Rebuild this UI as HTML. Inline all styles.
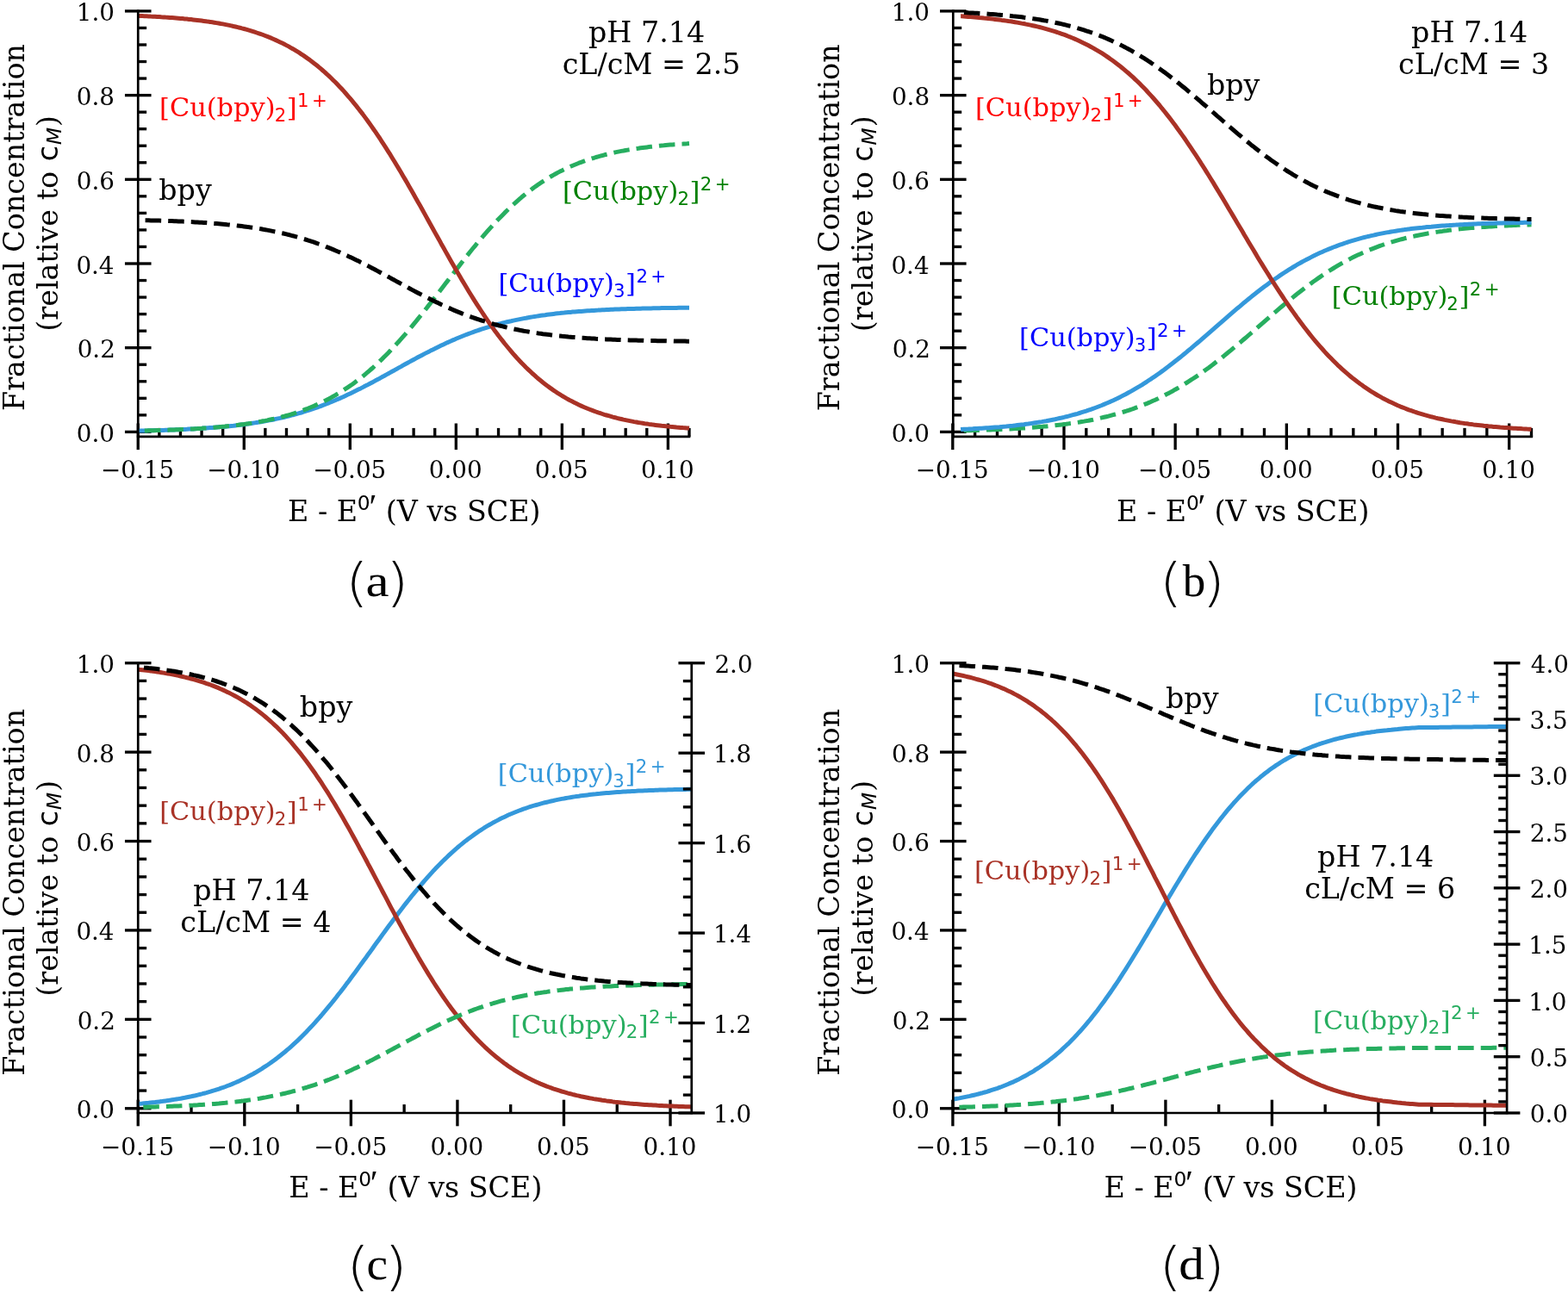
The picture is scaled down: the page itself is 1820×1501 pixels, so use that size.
<!DOCTYPE html>
<html><head><meta charset="utf-8"><title>Fractional Concentration</title>
<style>
html,body{margin:0;padding:0;background:#fff;}
body{width:1820px;height:1501px;overflow:hidden;}
svg{display:block;}
text{font-family:"DejaVu Serif", "Liberation Serif", serif;}
.sa{font-family:"DejaVu Sans", "Liberation Sans", sans-serif;}
.si{font-family:"DejaVu Sans", "Liberation Sans", sans-serif;font-style:italic;}
.cap{font-family:"Liberation Serif", "DejaVu Serif", serif;}
.xl{font-family:"DejaVu Sans", "Liberation Sans", sans-serif;font-weight:200;}
</style></head>
<body>
<svg width="1820" height="1501" viewBox="0 0 1820 1501">
<rect width="1820" height="1501" fill="#fff"/>
<g>
<line x1="144.95" y1="501.40" x2="175.55" y2="501.40" stroke="#000" stroke-width="3.33"/>
<text x="132.99" y="512.90" font-size="27.78" text-anchor="end">0.0</text>
<line x1="160.25" y1="481.86" x2="170.15" y2="481.86" stroke="#000" stroke-width="3.33"/>
<line x1="160.25" y1="462.32" x2="170.15" y2="462.32" stroke="#000" stroke-width="3.33"/>
<line x1="160.25" y1="442.78" x2="170.15" y2="442.78" stroke="#000" stroke-width="3.33"/>
<line x1="160.25" y1="423.24" x2="170.15" y2="423.24" stroke="#000" stroke-width="3.33"/>
<line x1="144.95" y1="403.70" x2="175.55" y2="403.70" stroke="#000" stroke-width="3.33"/>
<text x="133.88" y="415.20" font-size="27.78" text-anchor="end">0.2</text>
<line x1="160.25" y1="384.16" x2="170.15" y2="384.16" stroke="#000" stroke-width="3.33"/>
<line x1="160.25" y1="364.62" x2="170.15" y2="364.62" stroke="#000" stroke-width="3.33"/>
<line x1="160.25" y1="345.08" x2="170.15" y2="345.08" stroke="#000" stroke-width="3.33"/>
<line x1="160.25" y1="325.54" x2="170.15" y2="325.54" stroke="#000" stroke-width="3.33"/>
<line x1="144.95" y1="306.00" x2="175.55" y2="306.00" stroke="#000" stroke-width="3.33"/>
<text x="132.55" y="317.50" font-size="27.78" text-anchor="end">0.4</text>
<line x1="160.25" y1="286.46" x2="170.15" y2="286.46" stroke="#000" stroke-width="3.33"/>
<line x1="160.25" y1="266.92" x2="170.15" y2="266.92" stroke="#000" stroke-width="3.33"/>
<line x1="160.25" y1="247.38" x2="170.15" y2="247.38" stroke="#000" stroke-width="3.33"/>
<line x1="160.25" y1="227.84" x2="170.15" y2="227.84" stroke="#000" stroke-width="3.33"/>
<line x1="144.95" y1="208.30" x2="175.55" y2="208.30" stroke="#000" stroke-width="3.33"/>
<text x="132.90" y="219.80" font-size="27.78" text-anchor="end">0.6</text>
<line x1="160.25" y1="188.76" x2="170.15" y2="188.76" stroke="#000" stroke-width="3.33"/>
<line x1="160.25" y1="169.22" x2="170.15" y2="169.22" stroke="#000" stroke-width="3.33"/>
<line x1="160.25" y1="149.68" x2="170.15" y2="149.68" stroke="#000" stroke-width="3.33"/>
<line x1="160.25" y1="130.14" x2="170.15" y2="130.14" stroke="#000" stroke-width="3.33"/>
<line x1="144.95" y1="110.60" x2="175.55" y2="110.60" stroke="#000" stroke-width="3.33"/>
<text x="133.02" y="122.10" font-size="27.78" text-anchor="end">0.8</text>
<line x1="160.25" y1="91.06" x2="170.15" y2="91.06" stroke="#000" stroke-width="3.33"/>
<line x1="160.25" y1="71.52" x2="170.15" y2="71.52" stroke="#000" stroke-width="3.33"/>
<line x1="160.25" y1="51.98" x2="170.15" y2="51.98" stroke="#000" stroke-width="3.33"/>
<line x1="160.25" y1="32.44" x2="170.15" y2="32.44" stroke="#000" stroke-width="3.33"/>
<line x1="144.95" y1="12.90" x2="175.55" y2="12.90" stroke="#000" stroke-width="3.33"/>
<text x="132.99" y="24.40" font-size="27.78" text-anchor="end">1.0</text>
<line x1="160.25" y1="491.50" x2="160.25" y2="522.10" stroke="#000" stroke-width="3.33"/>
<text x="159.65" y="555.40" font-size="27.78" text-anchor="middle">−0.15</text>
<line x1="184.86" y1="496.90" x2="184.86" y2="506.80" stroke="#000" stroke-width="3.33"/>
<line x1="209.46" y1="496.90" x2="209.46" y2="506.80" stroke="#000" stroke-width="3.33"/>
<line x1="234.07" y1="496.90" x2="234.07" y2="506.80" stroke="#000" stroke-width="3.33"/>
<line x1="258.67" y1="496.90" x2="258.67" y2="506.80" stroke="#000" stroke-width="3.33"/>
<line x1="283.28" y1="491.50" x2="283.28" y2="522.10" stroke="#000" stroke-width="3.33"/>
<text x="282.68" y="555.40" font-size="27.78" text-anchor="middle">−0.10</text>
<line x1="307.88" y1="496.90" x2="307.88" y2="506.80" stroke="#000" stroke-width="3.33"/>
<line x1="332.49" y1="496.90" x2="332.49" y2="506.80" stroke="#000" stroke-width="3.33"/>
<line x1="357.10" y1="496.90" x2="357.10" y2="506.80" stroke="#000" stroke-width="3.33"/>
<line x1="381.70" y1="496.90" x2="381.70" y2="506.80" stroke="#000" stroke-width="3.33"/>
<line x1="406.31" y1="491.50" x2="406.31" y2="522.10" stroke="#000" stroke-width="3.33"/>
<text x="405.71" y="555.40" font-size="27.78" text-anchor="middle">−0.05</text>
<line x1="430.91" y1="496.90" x2="430.91" y2="506.80" stroke="#000" stroke-width="3.33"/>
<line x1="455.52" y1="496.90" x2="455.52" y2="506.80" stroke="#000" stroke-width="3.33"/>
<line x1="480.12" y1="496.90" x2="480.12" y2="506.80" stroke="#000" stroke-width="3.33"/>
<line x1="504.73" y1="496.90" x2="504.73" y2="506.80" stroke="#000" stroke-width="3.33"/>
<line x1="529.34" y1="491.50" x2="529.34" y2="522.10" stroke="#000" stroke-width="3.33"/>
<text x="528.74" y="555.40" font-size="27.78" text-anchor="middle">0.00</text>
<line x1="553.94" y1="496.90" x2="553.94" y2="506.80" stroke="#000" stroke-width="3.33"/>
<line x1="578.55" y1="496.90" x2="578.55" y2="506.80" stroke="#000" stroke-width="3.33"/>
<line x1="603.15" y1="496.90" x2="603.15" y2="506.80" stroke="#000" stroke-width="3.33"/>
<line x1="627.76" y1="496.90" x2="627.76" y2="506.80" stroke="#000" stroke-width="3.33"/>
<line x1="652.37" y1="491.50" x2="652.37" y2="522.10" stroke="#000" stroke-width="3.33"/>
<text x="651.77" y="555.40" font-size="27.78" text-anchor="middle">0.05</text>
<line x1="676.97" y1="496.90" x2="676.97" y2="506.80" stroke="#000" stroke-width="3.33"/>
<line x1="701.58" y1="496.90" x2="701.58" y2="506.80" stroke="#000" stroke-width="3.33"/>
<line x1="726.18" y1="496.90" x2="726.18" y2="506.80" stroke="#000" stroke-width="3.33"/>
<line x1="750.79" y1="496.90" x2="750.79" y2="506.80" stroke="#000" stroke-width="3.33"/>
<line x1="775.39" y1="491.50" x2="775.39" y2="522.10" stroke="#000" stroke-width="3.33"/>
<text x="774.79" y="555.40" font-size="27.78" text-anchor="middle">0.10</text>
<line x1="800.00" y1="496.90" x2="800.00" y2="506.80" stroke="#000" stroke-width="3.33"/>
<polyline points="160.2,500.1 162.7,500.1 165.2,500.0 167.6,500.0 170.1,499.9 172.6,499.8 175.0,499.8 177.5,499.7 179.9,499.6 182.4,499.6 184.9,499.5 187.3,499.4 189.8,499.4 192.2,499.3 194.7,499.2 197.2,499.1 199.6,499.0 202.1,498.9 204.5,498.8 207.0,498.7 209.5,498.6 211.9,498.5 214.4,498.4 216.8,498.3 219.3,498.1 221.8,498.0 224.2,497.9 226.7,497.7 229.1,497.6 231.6,497.4 234.1,497.3 236.5,497.1 239.0,497.0 241.4,496.8 243.9,496.6 246.4,496.4 248.8,496.2 251.3,496.0 253.8,495.8 256.2,495.6 258.7,495.4 261.1,495.2 263.6,494.9 266.1,494.7 268.5,494.4 271.0,494.2 273.4,493.9 275.9,493.6 278.4,493.3 280.8,493.0 283.3,492.7 285.7,492.4 288.2,492.0 290.7,491.7 293.1,491.3 295.6,490.9 298.0,490.5 300.5,490.1 303.0,489.7 305.4,489.3 307.9,488.9 310.3,488.4 312.8,487.9 315.3,487.5 317.7,487.0 320.2,486.4 322.6,485.9 325.1,485.4 327.6,484.8 330.0,484.2 332.5,483.6 335.0,483.0 337.4,482.4 339.9,481.7 342.3,481.1 344.8,480.4 347.3,479.7 349.7,479.0 352.2,478.2 354.6,477.4 357.1,476.7 359.6,475.9 362.0,475.0 364.5,474.2 366.9,473.3 369.4,472.5 371.9,471.6 374.3,470.6 376.8,469.7 379.2,468.7 381.7,467.8 384.2,466.8 386.6,465.7 389.1,464.7 391.5,463.6 394.0,462.6 396.5,461.5 398.9,460.4 401.4,459.2 403.8,458.1 406.3,456.9 408.8,455.7 411.2,454.5 413.7,453.3 416.1,452.1 418.6,450.9 421.1,449.6 423.5,448.3 426.0,447.1 428.5,445.8 430.9,444.5 433.4,443.2 435.8,441.8 438.3,440.5 440.8,439.2 443.2,437.8 445.7,436.5 448.1,435.1 450.6,433.8 453.1,432.4 455.5,431.0 458.0,429.7 460.4,428.3 462.9,426.9 465.4,425.6 467.8,424.2 470.3,422.8 472.7,421.5 475.2,420.1 477.7,418.8 480.1,417.5 482.6,416.1 485.0,414.8 487.5,413.5 490.0,412.2 492.4,410.9 494.9,409.6 497.3,408.4 499.8,407.1 502.3,405.9 504.7,404.7 507.2,403.5 509.7,402.3 512.1,401.1 514.6,399.9 517.0,398.8 519.5,397.6 522.0,396.5 524.4,395.4 526.9,394.4 529.3,393.3 531.8,392.3 534.3,391.3 536.7,390.3 539.2,389.3 541.6,388.3 544.1,387.4 546.6,386.5 549.0,385.6 551.5,384.7 553.9,383.8 556.4,383.0 558.9,382.2 561.3,381.4 563.8,380.6 566.2,379.8 568.7,379.1 571.2,378.4 573.6,377.7 576.1,377.0 578.5,376.3 581.0,375.7 583.5,375.0 585.9,374.4 588.4,373.8 590.9,373.2 593.3,372.7 595.8,372.1 598.2,371.6 600.7,371.1 603.2,370.6 605.6,370.1 608.1,369.6 610.5,369.2 613.0,368.7 615.5,368.3 617.9,367.9 620.4,367.5 622.8,367.1 625.3,366.7 627.8,366.3 630.2,366.0 632.7,365.7 635.1,365.3 637.6,365.0 640.1,364.7 642.5,364.4 645.0,364.1 647.4,363.8 649.9,363.6 652.4,363.3 654.8,363.1 657.3,362.8 659.7,362.6 662.2,362.4 664.7,362.1 667.1,361.9 669.6,361.7 672.0,361.5 674.5,361.4 677.0,361.2 679.4,361.0 681.9,360.8 684.4,360.7 686.8,360.5 689.3,360.4 691.7,360.2 694.2,360.1 696.7,359.9 699.1,359.8 701.6,359.7 704.0,359.6 706.5,359.5 709.0,359.3 711.4,359.2 713.9,359.1 716.3,359.0 718.8,358.9 721.3,358.8 723.7,358.8 726.2,358.7 728.6,358.6 731.1,358.5 733.6,358.4 736.0,358.4 738.5,358.3 740.9,358.2 743.4,358.2 745.9,358.1 748.3,358.0 750.8,358.0 753.2,357.9 755.7,357.9 758.2,357.8 760.6,357.8 763.1,357.7 765.6,357.7 768.0,357.6 770.5,357.6 772.9,357.5 775.4,357.5 777.9,357.5 780.3,357.4 782.8,357.4 785.2,357.4 787.7,357.3 790.2,357.3 792.6,357.3 795.1,357.2 797.5,357.2 800.0,357.2" fill="none" stroke="#3498db" stroke-width="5.0" stroke-linejoin="round"/>
<polyline points="167.8,500.0 170.1,499.9 172.6,499.8 175.0,499.8 177.5,499.7 179.9,499.7 182.4,499.6 184.9,499.5 187.3,499.4 189.8,499.4 192.2,499.3 194.7,499.2 197.2,499.1 199.6,499.0 202.1,498.9 204.5,498.8 207.0,498.7 209.5,498.6 211.9,498.5 214.4,498.4 216.8,498.3 219.3,498.1 221.8,498.0 224.2,497.9 226.7,497.7 229.1,497.6 231.6,497.4 234.1,497.3 236.5,497.1 239.0,496.9 241.4,496.8 243.9,496.6 246.4,496.4 248.8,496.2 251.3,496.0 253.8,495.8 256.2,495.5 258.7,495.3 261.1,495.1 263.6,494.8 266.1,494.6 268.5,494.3 271.0,494.0 273.4,493.7 275.9,493.4 278.4,493.1 280.8,492.8 283.3,492.5 285.7,492.1 288.2,491.8 290.7,491.4 293.1,491.0 295.6,490.6 298.0,490.2 300.5,489.7 303.0,489.3 305.4,488.8 307.9,488.4 310.3,487.9 312.8,487.3 315.3,486.8 317.7,486.3 320.2,485.7 322.6,485.1 325.1,484.5 327.6,483.8 330.0,483.2 332.5,482.5 335.0,481.8 337.4,481.1 339.9,480.3 342.3,479.5 344.8,478.7 347.3,477.9 349.7,477.0 352.2,476.1 354.6,475.2 357.1,474.3 359.6,473.3 362.0,472.3 364.5,471.2 366.9,470.1 369.4,469.0 371.9,467.9 374.3,466.7 376.8,465.5 379.2,464.3 381.7,463.0 384.2,461.6 386.6,460.3 389.1,458.9 391.5,457.4 394.0,455.9 396.5,454.4 398.9,452.8 401.4,451.2 403.8,449.6 406.3,447.9 408.8,446.2 411.2,444.4 413.7,442.5 416.1,440.7 418.6,438.7 421.1,436.8 423.5,434.8 426.0,432.7 428.5,430.6 430.9,428.5 433.4,426.3 435.8,424.0 438.3,421.8 440.8,419.4 443.2,417.1 445.7,414.6 448.1,412.2 450.6,409.7 453.1,407.1 455.5,404.5 458.0,401.9 460.4,399.2 462.9,396.5 465.4,393.7 467.8,390.9 470.3,388.1 472.7,385.2 475.2,382.3 477.7,379.4 480.1,376.4 482.6,373.4 485.0,370.4 487.5,367.3 490.0,364.3 492.4,361.2 494.9,358.0 497.3,354.9 499.8,351.7 502.3,348.6 504.7,345.4 507.2,342.2 509.7,339.0 512.1,335.8 514.6,332.5 517.0,329.3 519.5,326.1 522.0,322.9 524.4,319.7 526.9,316.5 529.3,313.3 531.8,310.1 534.3,306.9 536.7,303.8 539.2,300.6 541.6,297.5 544.1,294.4 546.6,291.3 549.0,288.3 551.5,285.3 553.9,282.3 556.4,279.3 558.9,276.4 561.3,273.5 563.8,270.7 566.2,267.9 568.7,265.1 571.2,262.4 573.6,259.7 576.1,257.0 578.5,254.4 581.0,251.9 583.5,249.4 585.9,246.9 588.4,244.5 590.9,242.1 593.3,239.8 595.8,237.5 598.2,235.3 600.7,233.1 603.2,230.9 605.6,228.8 608.1,226.8 610.5,224.8 613.0,222.9 615.5,221.0 617.9,219.1 620.4,217.3 622.8,215.6 625.3,213.8 627.8,212.2 630.2,210.6 632.7,209.0 635.1,207.5 637.6,206.0 640.1,204.5 642.5,203.1 645.0,201.7 647.4,200.4 649.9,199.1 652.4,197.9 654.8,196.7 657.3,195.5 659.7,194.4 662.2,193.3 664.7,192.2 667.1,191.2 669.6,190.2 672.0,189.2 674.5,188.3 677.0,187.4 679.4,186.5 681.9,185.6 684.4,184.8 686.8,184.0 689.3,183.3 691.7,182.5 694.2,181.8 696.7,181.1 699.1,180.5 701.6,179.8 704.0,179.2 706.5,178.6 709.0,178.0 711.4,177.5 713.9,176.9 716.3,176.4 718.8,175.9 721.3,175.4 723.7,175.0 726.2,174.5 728.6,174.1 731.1,173.7 733.6,173.3 736.0,172.9 738.5,172.5 740.9,172.2 743.4,171.8 745.9,171.5 748.3,171.2 750.8,170.9 753.2,170.6 755.7,170.3 758.2,170.0 760.6,169.7 763.1,169.5 765.6,169.2 768.0,169.0 770.5,168.8 772.9,168.5 775.4,168.3 777.9,168.1 780.3,167.9 782.8,167.7 785.2,167.6 787.7,167.4 790.2,167.2 792.6,167.1 795.1,166.9 797.5,166.8 800.0,166.6" fill="none" stroke="#27ae60" stroke-width="5.0" stroke-linejoin="round" stroke-dasharray="18.55 8.05"/>
<polyline points="160.2,18.4 162.7,18.5 165.2,18.6 167.6,18.7 170.1,18.8 172.6,18.9 175.0,19.1 177.5,19.2 179.9,19.3 182.4,19.5 184.9,19.6 187.3,19.8 189.8,19.9 192.2,20.1 194.7,20.2 197.2,20.4 199.6,20.6 202.1,20.8 204.5,21.0 207.0,21.2 209.5,21.4 211.9,21.6 214.4,21.9 216.8,22.1 219.3,22.4 221.8,22.6 224.2,22.9 226.7,23.2 229.1,23.5 231.6,23.8 234.1,24.1 236.5,24.4 239.0,24.7 241.4,25.1 243.9,25.4 246.4,25.8 248.8,26.2 251.3,26.6 253.8,27.0 256.2,27.5 258.7,27.9 261.1,28.4 263.6,28.9 266.1,29.4 268.5,29.9 271.0,30.5 273.4,31.0 275.9,31.6 278.4,32.2 280.8,32.9 283.3,33.5 285.7,34.2 288.2,34.9 290.7,35.6 293.1,36.4 295.6,37.2 298.0,38.0 300.5,38.8 303.0,39.7 305.4,40.5 307.9,41.5 310.3,42.4 312.8,43.4 315.3,44.4 317.7,45.5 320.2,46.6 322.6,47.7 325.1,48.9 327.6,50.1 330.0,51.3 332.5,52.6 335.0,53.9 337.4,55.3 339.9,56.7 342.3,58.2 344.8,59.7 347.3,61.2 349.7,62.8 352.2,64.4 354.6,66.1 357.1,67.9 359.6,69.6 362.0,71.5 364.5,73.4 366.9,75.3 369.4,77.3 371.9,79.4 374.3,81.5 376.8,83.6 379.2,85.9 381.7,88.1 384.2,90.5 386.6,92.9 389.1,95.3 391.5,97.8 394.0,100.4 396.5,103.0 398.9,105.7 401.4,108.5 403.8,111.3 406.3,114.1 408.8,117.1 411.2,120.1 413.7,123.1 416.1,126.2 418.6,129.4 421.1,132.6 423.5,135.9 426.0,139.3 428.5,142.7 430.9,146.1 433.4,149.7 435.8,153.2 438.3,156.9 440.8,160.5 443.2,164.3 445.7,168.1 448.1,171.9 450.6,175.8 453.1,179.7 455.5,183.7 458.0,187.7 460.4,191.8 462.9,195.9 465.4,200.0 467.8,204.2 470.3,208.4 472.7,212.6 475.2,216.9 477.7,221.2 480.1,225.5 482.6,229.9 485.0,234.3 487.5,238.6 490.0,243.0 492.4,247.4 494.9,251.9 497.3,256.3 499.8,260.7 502.3,265.2 504.7,269.6 507.2,274.0 509.7,278.4 512.1,282.9 514.6,287.3 517.0,291.6 519.5,296.0 522.0,300.4 524.4,304.7 526.9,309.0 529.3,313.3 531.8,317.5 534.3,321.7 536.7,325.9 539.2,330.0 541.6,334.1 544.1,338.2 546.6,342.2 549.0,346.1 551.5,350.1 553.9,353.9 556.4,357.7 558.9,361.5 561.3,365.2 563.8,368.9 566.2,372.4 568.7,376.0 571.2,379.5 573.6,382.9 576.1,386.2 578.5,389.5 581.0,392.7 583.5,395.9 585.9,399.0 588.4,402.0 590.9,405.0 593.3,407.9 595.8,410.8 598.2,413.5 600.7,416.3 603.2,418.9 605.6,421.5 608.1,424.0 610.5,426.5 613.0,428.9 615.5,431.2 617.9,433.5 620.4,435.7 622.8,437.9 625.3,440.0 627.8,442.0 630.2,444.0 632.7,445.9 635.1,447.8 637.6,449.6 640.1,451.4 642.5,453.1 645.0,454.8 647.4,456.4 649.9,457.9 652.4,459.5 654.8,460.9 657.3,462.4 659.7,463.7 662.2,465.1 664.7,466.3 667.1,467.6 669.6,468.8 672.0,470.0 674.5,471.1 677.0,472.2 679.4,473.2 681.9,474.3 684.4,475.3 686.8,476.2 689.3,477.1 691.7,478.0 694.2,478.9 696.7,479.7 699.1,480.5 701.6,481.3 704.0,482.0 706.5,482.7 709.0,483.4 711.4,484.1 713.9,484.7 716.3,485.4 718.8,486.0 721.3,486.5 723.7,487.1 726.2,487.6 728.6,488.1 731.1,488.6 733.6,489.1 736.0,489.6 738.5,490.0 740.9,490.5 743.4,490.9 745.9,491.3 748.3,491.7 750.8,492.0 753.2,492.4 755.7,492.7 758.2,493.1 760.6,493.4 763.1,493.7 765.6,494.0 768.0,494.3 770.5,494.5 772.9,494.8 775.4,495.0 777.9,495.3 780.3,495.5 782.8,495.7 785.2,496.0 787.7,496.2 790.2,496.4 792.6,496.6 795.1,496.7 797.5,496.9 800.0,497.1" fill="none" stroke="#a93226" stroke-width="5.0" stroke-linejoin="round"/>
<polyline points="168.6,255.7 170.1,255.7 172.6,255.8 175.0,255.9 177.5,255.9 179.9,256.0 182.4,256.1 184.9,256.1 187.3,256.2 189.8,256.3 192.2,256.4 194.7,256.4 197.2,256.5 199.6,256.6 202.1,256.7 204.5,256.8 207.0,256.9 209.5,257.0 211.9,257.1 214.4,257.2 216.8,257.4 219.3,257.5 221.8,257.6 224.2,257.7 226.7,257.9 229.1,258.0 231.6,258.2 234.1,258.3 236.5,258.5 239.0,258.6 241.4,258.8 243.9,259.0 246.4,259.2 248.8,259.4 251.3,259.6 253.8,259.8 256.2,260.0 258.7,260.2 261.1,260.4 263.6,260.7 266.1,260.9 268.5,261.2 271.0,261.4 273.4,261.7 275.9,262.0 278.4,262.3 280.8,262.6 283.3,262.9 285.7,263.2 288.2,263.6 290.7,263.9 293.1,264.3 295.6,264.6 298.0,265.0 300.5,265.4 303.0,265.8 305.4,266.3 307.9,266.7 310.3,267.1 312.8,267.6 315.3,268.1 317.7,268.6 320.2,269.1 322.6,269.6 325.1,270.2 327.6,270.7 330.0,271.3 332.5,271.9 335.0,272.5 337.4,273.1 339.9,273.8 342.3,274.4 344.8,275.1 347.3,275.8 349.7,276.5 352.2,277.3 354.6,278.0 357.1,278.8 359.6,279.6 362.0,280.4 364.5,281.2 366.9,282.1 369.4,283.0 371.9,283.9 374.3,284.8 376.8,285.7 379.2,286.7 381.7,287.6 384.2,288.6 386.6,289.6 389.1,290.7 391.5,291.7 394.0,292.8 396.5,293.9 398.9,295.0 401.4,296.1 403.8,297.2 406.3,298.4 408.8,299.5 411.2,300.7 413.7,301.9 416.1,303.1 418.6,304.4 421.1,305.6 423.5,306.9 426.0,308.1 428.5,309.4 430.9,310.7 433.4,312.0 435.8,313.3 438.3,314.6 440.8,316.0 443.2,317.3 445.7,318.6 448.1,320.0 450.6,321.3 453.1,322.6 455.5,324.0 458.0,325.3 460.4,326.7 462.9,328.0 465.4,329.4 467.8,330.7 470.3,332.1 472.7,333.4 475.2,334.7 477.7,336.1 480.1,337.4 482.6,338.7 485.0,340.0 487.5,341.3 490.0,342.5 492.4,343.8 494.9,345.1 497.3,346.3 499.8,347.5 502.3,348.8 504.7,350.0 507.2,351.1 509.7,352.3 512.1,353.5 514.6,354.6 517.0,355.7 519.5,356.8 522.0,357.9 524.4,359.0 526.9,360.1 529.3,361.1 531.8,362.1 534.3,363.1 536.7,364.1 539.2,365.0 541.6,366.0 544.1,366.9 546.6,367.8 549.0,368.7 551.5,369.5 553.9,370.3 556.4,371.2 558.9,372.0 561.3,372.7 563.8,373.5 566.2,374.3 568.7,375.0 571.2,375.7 573.6,376.4 576.1,377.0 578.5,377.7 581.0,378.3 583.5,378.9 585.9,379.5 588.4,380.1 590.9,380.7 593.3,381.2 595.8,381.8 598.2,382.3 600.7,382.8 603.2,383.3 605.6,383.7 608.1,384.2 610.5,384.6 613.0,385.0 615.5,385.5 617.9,385.9 620.4,386.3 622.8,386.6 625.3,387.0 627.8,387.3 630.2,387.7 632.7,388.0 635.1,388.3 637.6,388.6 640.1,388.9 642.5,389.2 645.0,389.5 647.4,389.8 649.9,390.0 652.4,390.3 654.8,390.5 657.3,390.7 659.7,391.0 662.2,391.2 664.7,391.4 667.1,391.6 669.6,391.8 672.0,392.0 674.5,392.2 677.0,392.3 679.4,392.5 681.9,392.7 684.4,392.8 686.8,393.0 689.3,393.1 691.7,393.3 694.2,393.4 696.7,393.5 699.1,393.6 701.6,393.8 704.0,393.9 706.5,394.0 709.0,394.1 711.4,394.2 713.9,394.3 716.3,394.4 718.8,394.5 721.3,394.6 723.7,394.7 726.2,394.7 728.6,394.8 731.1,394.9 733.6,395.0 736.0,395.0 738.5,395.1 740.9,395.2 743.4,395.2 745.9,395.3 748.3,395.4 750.8,395.4 753.2,395.5 755.7,395.5 758.2,395.6 760.6,395.6 763.1,395.7 765.6,395.7 768.0,395.8 770.5,395.8 772.9,395.8 775.4,395.9 777.9,395.9 780.3,395.9 782.8,396.0 785.2,396.0 787.7,396.0 790.2,396.1 792.6,396.1 795.1,396.1 797.5,396.2 800.0,396.2" fill="none" stroke="#000" stroke-width="5.0" stroke-linejoin="round" stroke-dasharray="18.55 8.05"/>
<line x1="160.25" y1="11.23" x2="160.25" y2="508.15" stroke="#000" stroke-width="2.7"/>
<line x1="158.90" y1="506.80" x2="801.35" y2="506.80" stroke="#000" stroke-width="2.7"/>
<text font-size="33.33"><tspan x="333.96" y="604.50">E - E</tspan><tspan class="sa" font-size="23.33" x="414.86" y="591.50">0</tspan><tspan class="cap" font-size="41.00" x="428.38" y="600.90">′</tspan><tspan x="437.18" y="604.50"> (V vs SCE)</tspan></text>
<g transform="translate(28.40,476.96) rotate(-90)">
<text x="0.00" y="0.00" font-size="33.33">Fractional Concentration</text>
</g>
<g transform="translate(67.00,384.74) rotate(-90)">
<text font-size="33.33"><tspan x="0" y="0">(relative to </tspan><tspan class="sa" x="197.50" y="0">c</tspan><tspan class="si" font-size="23.33" x="216.71" y="4.4">M</tspan><tspan x="237.77" y="0">)</tspan></text>
</g>
<text font-size="30.40" fill="#ff0000"><tspan x="185.09" y="134.80">[Cu(bpy)</tspan><tspan class="sa" font-size="21.28" x="318.65" y="140.60">2</tspan><tspan x="332.69" y="134.80">]</tspan><tspan class="sa" font-size="21.28" x="345.07" y="123.60">1</tspan><tspan class="sa" font-size="21.28" x="361.95" y="123.60">+</tspan></text>
<text x="184.24" y="232.40" font-size="33.33">bpy</text>
<text font-size="30.40" fill="#008000"><tspan x="652.89" y="232.40">[Cu(bpy)</tspan><tspan class="sa" font-size="21.28" x="786.45" y="238.20">2</tspan><tspan x="800.49" y="232.40">]</tspan><tspan class="sa" font-size="21.28" x="812.87" y="221.20">2</tspan><tspan class="sa" font-size="21.28" x="829.75" y="221.20">+</tspan></text>
<text font-size="30.40" fill="#0000ff"><tspan x="578.49" y="338.80">[Cu(bpy)</tspan><tspan class="sa" font-size="21.28" x="712.05" y="344.60">3</tspan><tspan x="726.09" y="338.80">]</tspan><tspan class="sa" font-size="21.28" x="738.47" y="327.60">2</tspan><tspan class="sa" font-size="21.28" x="755.35" y="327.60">+</tspan></text>
<text x="682.95" y="48.90" font-size="33.33">pH 7.14</text>
<text x="652.63" y="86.00" font-size="33.33">cL/cM = 2.5</text>
<text class="cap" font-size="53.0"><tspan class="xl" x="400.84" y="697.10" font-size="60.1" textLength="26.96" lengthAdjust="spacingAndGlyphs">(</tspan><tspan x="424.52" y="691.60" textLength="27.05" lengthAdjust="spacingAndGlyphs">a</tspan><tspan class="xl" x="447.86" y="697.10" font-size="60.1" textLength="26.96" lengthAdjust="spacingAndGlyphs">)</tspan></text>
</g>
<g>
<line x1="1091.00" y1="501.40" x2="1121.60" y2="501.40" stroke="#000" stroke-width="3.33"/>
<text x="1079.04" y="512.90" font-size="27.78" text-anchor="end">0.0</text>
<line x1="1106.30" y1="481.86" x2="1116.20" y2="481.86" stroke="#000" stroke-width="3.33"/>
<line x1="1106.30" y1="462.32" x2="1116.20" y2="462.32" stroke="#000" stroke-width="3.33"/>
<line x1="1106.30" y1="442.78" x2="1116.20" y2="442.78" stroke="#000" stroke-width="3.33"/>
<line x1="1106.30" y1="423.24" x2="1116.20" y2="423.24" stroke="#000" stroke-width="3.33"/>
<line x1="1091.00" y1="403.70" x2="1121.60" y2="403.70" stroke="#000" stroke-width="3.33"/>
<text x="1079.93" y="415.20" font-size="27.78" text-anchor="end">0.2</text>
<line x1="1106.30" y1="384.16" x2="1116.20" y2="384.16" stroke="#000" stroke-width="3.33"/>
<line x1="1106.30" y1="364.62" x2="1116.20" y2="364.62" stroke="#000" stroke-width="3.33"/>
<line x1="1106.30" y1="345.08" x2="1116.20" y2="345.08" stroke="#000" stroke-width="3.33"/>
<line x1="1106.30" y1="325.54" x2="1116.20" y2="325.54" stroke="#000" stroke-width="3.33"/>
<line x1="1091.00" y1="306.00" x2="1121.60" y2="306.00" stroke="#000" stroke-width="3.33"/>
<text x="1078.60" y="317.50" font-size="27.78" text-anchor="end">0.4</text>
<line x1="1106.30" y1="286.46" x2="1116.20" y2="286.46" stroke="#000" stroke-width="3.33"/>
<line x1="1106.30" y1="266.92" x2="1116.20" y2="266.92" stroke="#000" stroke-width="3.33"/>
<line x1="1106.30" y1="247.38" x2="1116.20" y2="247.38" stroke="#000" stroke-width="3.33"/>
<line x1="1106.30" y1="227.84" x2="1116.20" y2="227.84" stroke="#000" stroke-width="3.33"/>
<line x1="1091.00" y1="208.30" x2="1121.60" y2="208.30" stroke="#000" stroke-width="3.33"/>
<text x="1078.95" y="219.80" font-size="27.78" text-anchor="end">0.6</text>
<line x1="1106.30" y1="188.76" x2="1116.20" y2="188.76" stroke="#000" stroke-width="3.33"/>
<line x1="1106.30" y1="169.22" x2="1116.20" y2="169.22" stroke="#000" stroke-width="3.33"/>
<line x1="1106.30" y1="149.68" x2="1116.20" y2="149.68" stroke="#000" stroke-width="3.33"/>
<line x1="1106.30" y1="130.14" x2="1116.20" y2="130.14" stroke="#000" stroke-width="3.33"/>
<line x1="1091.00" y1="110.60" x2="1121.60" y2="110.60" stroke="#000" stroke-width="3.33"/>
<text x="1079.07" y="122.10" font-size="27.78" text-anchor="end">0.8</text>
<line x1="1106.30" y1="91.06" x2="1116.20" y2="91.06" stroke="#000" stroke-width="3.33"/>
<line x1="1106.30" y1="71.52" x2="1116.20" y2="71.52" stroke="#000" stroke-width="3.33"/>
<line x1="1106.30" y1="51.98" x2="1116.20" y2="51.98" stroke="#000" stroke-width="3.33"/>
<line x1="1106.30" y1="32.44" x2="1116.20" y2="32.44" stroke="#000" stroke-width="3.33"/>
<line x1="1091.00" y1="12.90" x2="1121.60" y2="12.90" stroke="#000" stroke-width="3.33"/>
<text x="1079.04" y="24.40" font-size="27.78" text-anchor="end">1.0</text>
<line x1="1105.80" y1="491.50" x2="1105.80" y2="522.10" stroke="#000" stroke-width="3.33"/>
<text x="1105.20" y="555.40" font-size="27.78" text-anchor="middle">−0.15</text>
<line x1="1131.63" y1="496.90" x2="1131.63" y2="506.80" stroke="#000" stroke-width="3.33"/>
<line x1="1157.47" y1="496.90" x2="1157.47" y2="506.80" stroke="#000" stroke-width="3.33"/>
<line x1="1183.30" y1="496.90" x2="1183.30" y2="506.80" stroke="#000" stroke-width="3.33"/>
<line x1="1209.14" y1="496.90" x2="1209.14" y2="506.80" stroke="#000" stroke-width="3.33"/>
<line x1="1234.97" y1="491.50" x2="1234.97" y2="522.10" stroke="#000" stroke-width="3.33"/>
<text x="1234.37" y="555.40" font-size="27.78" text-anchor="middle">−0.10</text>
<line x1="1260.81" y1="496.90" x2="1260.81" y2="506.80" stroke="#000" stroke-width="3.33"/>
<line x1="1286.64" y1="496.90" x2="1286.64" y2="506.80" stroke="#000" stroke-width="3.33"/>
<line x1="1312.48" y1="496.90" x2="1312.48" y2="506.80" stroke="#000" stroke-width="3.33"/>
<line x1="1338.31" y1="496.90" x2="1338.31" y2="506.80" stroke="#000" stroke-width="3.33"/>
<line x1="1364.15" y1="491.50" x2="1364.15" y2="522.10" stroke="#000" stroke-width="3.33"/>
<text x="1363.55" y="555.40" font-size="27.78" text-anchor="middle">−0.05</text>
<line x1="1389.98" y1="496.90" x2="1389.98" y2="506.80" stroke="#000" stroke-width="3.33"/>
<line x1="1415.82" y1="496.90" x2="1415.82" y2="506.80" stroke="#000" stroke-width="3.33"/>
<line x1="1441.65" y1="496.90" x2="1441.65" y2="506.80" stroke="#000" stroke-width="3.33"/>
<line x1="1467.48" y1="496.90" x2="1467.48" y2="506.80" stroke="#000" stroke-width="3.33"/>
<line x1="1493.32" y1="491.50" x2="1493.32" y2="522.10" stroke="#000" stroke-width="3.33"/>
<text x="1492.72" y="555.40" font-size="27.78" text-anchor="middle">0.00</text>
<line x1="1519.15" y1="496.90" x2="1519.15" y2="506.80" stroke="#000" stroke-width="3.33"/>
<line x1="1544.99" y1="496.90" x2="1544.99" y2="506.80" stroke="#000" stroke-width="3.33"/>
<line x1="1570.82" y1="496.90" x2="1570.82" y2="506.80" stroke="#000" stroke-width="3.33"/>
<line x1="1596.66" y1="496.90" x2="1596.66" y2="506.80" stroke="#000" stroke-width="3.33"/>
<line x1="1622.49" y1="491.50" x2="1622.49" y2="522.10" stroke="#000" stroke-width="3.33"/>
<text x="1621.89" y="555.40" font-size="27.78" text-anchor="middle">0.05</text>
<line x1="1648.33" y1="496.90" x2="1648.33" y2="506.80" stroke="#000" stroke-width="3.33"/>
<line x1="1674.16" y1="496.90" x2="1674.16" y2="506.80" stroke="#000" stroke-width="3.33"/>
<line x1="1700.00" y1="496.90" x2="1700.00" y2="506.80" stroke="#000" stroke-width="3.33"/>
<line x1="1725.83" y1="496.90" x2="1725.83" y2="506.80" stroke="#000" stroke-width="3.33"/>
<line x1="1751.67" y1="491.50" x2="1751.67" y2="522.10" stroke="#000" stroke-width="3.33"/>
<text x="1751.07" y="555.40" font-size="27.78" text-anchor="middle">0.10</text>
<line x1="1777.50" y1="496.90" x2="1777.50" y2="506.80" stroke="#000" stroke-width="3.33"/>
<polyline points="1118.3,499.9 1118.7,499.8 1121.3,499.8 1123.9,499.7 1126.5,499.7 1129.1,499.6 1131.6,499.5 1134.2,499.4 1136.8,499.4 1139.4,499.3 1142.0,499.2 1144.6,499.1 1147.1,499.0 1149.7,498.9 1152.3,498.8 1154.9,498.7 1157.5,498.6 1160.1,498.5 1162.6,498.4 1165.2,498.3 1167.8,498.1 1170.4,498.0 1173.0,497.9 1175.6,497.7 1178.1,497.6 1180.7,497.4 1183.3,497.3 1185.9,497.1 1188.5,497.0 1191.1,496.8 1193.6,496.6 1196.2,496.4 1198.8,496.2 1201.4,496.0 1204.0,495.8 1206.6,495.6 1209.1,495.4 1211.7,495.1 1214.3,494.9 1216.9,494.6 1219.5,494.4 1222.1,494.1 1224.6,493.8 1227.2,493.5 1229.8,493.2 1232.4,492.9 1235.0,492.6 1237.6,492.3 1240.1,491.9 1242.7,491.5 1245.3,491.2 1247.9,490.8 1250.5,490.4 1253.1,490.0 1255.6,489.5 1258.2,489.1 1260.8,488.6 1263.4,488.2 1266.0,487.7 1268.6,487.2 1271.1,486.6 1273.7,486.1 1276.3,485.5 1278.9,484.9 1281.5,484.3 1284.1,483.7 1286.6,483.1 1289.2,482.4 1291.8,481.7 1294.4,481.0 1297.0,480.3 1299.6,479.6 1302.1,478.8 1304.7,478.0 1307.3,477.2 1309.9,476.3 1312.5,475.5 1315.1,474.6 1317.6,473.7 1320.2,472.7 1322.8,471.7 1325.4,470.7 1328.0,469.7 1330.6,468.7 1333.1,467.6 1335.7,466.5 1338.3,465.3 1340.9,464.2 1343.5,463.0 1346.1,461.7 1348.6,460.5 1351.2,459.2 1353.8,457.8 1356.4,456.5 1359.0,455.1 1361.6,453.7 1364.1,452.2 1366.7,450.8 1369.3,449.3 1371.9,447.7 1374.5,446.1 1377.1,444.5 1379.6,442.9 1382.2,441.2 1384.8,439.5 1387.4,437.8 1390.0,436.1 1392.6,434.3 1395.1,432.5 1397.7,430.6 1400.3,428.8 1402.9,426.9 1405.5,424.9 1408.1,423.0 1410.6,421.0 1413.2,419.0 1415.8,417.0 1418.4,415.0 1421.0,412.9 1423.6,410.8 1426.1,408.7 1428.7,406.6 1431.3,404.4 1433.9,402.3 1436.5,400.1 1439.1,397.9 1441.7,395.7 1444.2,393.5 1446.8,391.3 1449.4,389.0 1452.0,386.8 1454.6,384.6 1457.2,382.3 1459.7,380.1 1462.3,377.8 1464.9,375.6 1467.5,373.3 1470.1,371.1 1472.7,368.8 1475.2,366.6 1477.8,364.3 1480.4,362.1 1483.0,359.9 1485.6,357.7 1488.2,355.5 1490.7,353.4 1493.3,351.2 1495.9,349.1 1498.5,347.0 1501.1,344.9 1503.7,342.8 1506.2,340.7 1508.8,338.7 1511.4,336.7 1514.0,334.7 1516.6,332.7 1519.2,330.8 1521.7,328.9 1524.3,327.0 1526.9,325.2 1529.5,323.4 1532.1,321.6 1534.7,319.8 1537.2,318.1 1539.8,316.4 1542.4,314.7 1545.0,313.1 1547.6,311.5 1550.2,309.9 1552.7,308.4 1555.3,306.9 1557.9,305.4 1560.5,304.0 1563.1,302.6 1565.7,301.2 1568.2,299.9 1570.8,298.6 1573.4,297.3 1576.0,296.1 1578.6,294.9 1581.2,293.7 1583.7,292.6 1586.3,291.5 1588.9,290.4 1591.5,289.3 1594.1,288.3 1596.7,287.3 1599.2,286.4 1601.8,285.4 1604.4,284.5 1607.0,283.6 1609.6,282.8 1612.2,281.9 1614.7,281.1 1617.3,280.4 1619.9,279.6 1622.5,278.9 1625.1,278.2 1627.7,277.5 1630.2,276.8 1632.8,276.2 1635.4,275.5 1638.0,274.9 1640.6,274.4 1643.2,273.8 1645.7,273.2 1648.3,272.7 1650.9,272.2 1653.5,271.7 1656.1,271.2 1658.7,270.8 1661.2,270.3 1663.8,269.9 1666.4,269.5 1669.0,269.1 1671.6,268.7 1674.2,268.4 1676.7,268.0 1679.3,267.7 1681.9,267.3 1684.5,267.0 1687.1,266.7 1689.7,266.4 1692.2,266.1 1694.8,265.8 1697.4,265.6 1700.0,265.3 1702.6,265.1 1705.2,264.8 1707.7,264.6 1710.3,264.4 1712.9,264.2 1715.5,264.0 1718.1,263.8 1720.7,263.6 1723.2,263.4 1725.8,263.2 1728.4,263.0 1731.0,262.9 1733.6,262.7 1736.2,262.6 1738.7,262.4 1741.3,262.3 1743.9,262.1 1746.5,262.0 1749.1,261.9 1751.7,261.8 1754.2,261.7 1756.8,261.5 1759.4,261.4 1762.0,261.3 1764.6,261.2 1767.2,261.1 1769.7,261.0 1772.3,261.0 1774.9,260.9 1777.5,260.8" fill="none" stroke="#27ae60" stroke-width="5.0" stroke-linejoin="round" stroke-dasharray="18.55 8.05"/>
<polyline points="1115.1,498.5 1116.1,498.4 1118.7,498.3 1121.3,498.2 1123.9,498.1 1126.5,497.9 1129.1,497.8 1131.6,497.6 1134.2,497.5 1136.8,497.3 1139.4,497.2 1142.0,497.0 1144.6,496.8 1147.1,496.7 1149.7,496.5 1152.3,496.3 1154.9,496.1 1157.5,495.9 1160.1,495.7 1162.6,495.4 1165.2,495.2 1167.8,495.0 1170.4,494.7 1173.0,494.4 1175.6,494.2 1178.1,493.9 1180.7,493.6 1183.3,493.3 1185.9,493.0 1188.5,492.7 1191.1,492.3 1193.6,492.0 1196.2,491.6 1198.8,491.2 1201.4,490.8 1204.0,490.4 1206.6,490.0 1209.1,489.6 1211.7,489.1 1214.3,488.7 1216.9,488.2 1219.5,487.7 1222.1,487.2 1224.6,486.7 1227.2,486.1 1229.8,485.5 1232.4,485.0 1235.0,484.4 1237.6,483.7 1240.1,483.1 1242.7,482.4 1245.3,481.7 1247.9,481.0 1250.5,480.3 1253.1,479.5 1255.6,478.7 1258.2,477.9 1260.8,477.1 1263.4,476.2 1266.0,475.3 1268.6,474.4 1271.1,473.5 1273.7,472.5 1276.3,471.5 1278.9,470.5 1281.5,469.4 1284.1,468.3 1286.6,467.2 1289.2,466.1 1291.8,464.9 1294.4,463.7 1297.0,462.5 1299.6,461.2 1302.1,459.9 1304.7,458.6 1307.3,457.2 1309.9,455.8 1312.5,454.4 1315.1,452.9 1317.6,451.4 1320.2,449.9 1322.8,448.4 1325.4,446.8 1328.0,445.1 1330.6,443.5 1333.1,441.8 1335.7,440.1 1338.3,438.3 1340.9,436.6 1343.5,434.8 1346.1,432.9 1348.6,431.1 1351.2,429.2 1353.8,427.2 1356.4,425.3 1359.0,423.3 1361.6,421.3 1364.1,419.3 1366.7,417.3 1369.3,415.2 1371.9,413.1 1374.5,411.0 1377.1,408.9 1379.6,406.7 1382.2,404.6 1384.8,402.4 1387.4,400.2 1390.0,398.0 1392.6,395.8 1395.1,393.6 1397.7,391.3 1400.3,389.1 1402.9,386.8 1405.5,384.6 1408.1,382.3 1410.6,380.1 1413.2,377.8 1415.8,375.6 1418.4,373.3 1421.0,371.1 1423.6,368.8 1426.1,366.6 1428.7,364.4 1431.3,362.1 1433.9,359.9 1436.5,357.7 1439.1,355.6 1441.7,353.4 1444.2,351.2 1446.8,349.1 1449.4,347.0 1452.0,344.9 1454.6,342.8 1457.2,340.8 1459.7,338.8 1462.3,336.8 1464.9,334.8 1467.5,332.8 1470.1,330.9 1472.7,329.0 1475.2,327.1 1477.8,325.3 1480.4,323.5 1483.0,321.7 1485.6,319.9 1488.2,318.2 1490.7,316.5 1493.3,314.8 1495.9,313.2 1498.5,311.6 1501.1,310.0 1503.7,308.5 1506.2,306.9 1508.8,305.5 1511.4,304.0 1514.0,302.6 1516.6,301.2 1519.2,299.9 1521.7,298.6 1524.3,297.3 1526.9,296.0 1529.5,294.8 1532.1,293.6 1534.7,292.4 1537.2,291.3 1539.8,290.2 1542.4,289.1 1545.0,288.1 1547.6,287.0 1550.2,286.1 1552.7,285.1 1555.3,284.2 1557.9,283.3 1560.5,282.4 1563.1,281.5 1565.7,280.7 1568.2,279.9 1570.8,279.1 1573.4,278.3 1576.0,277.6 1578.6,276.9 1581.2,276.2 1583.7,275.5 1586.3,274.9 1588.9,274.3 1591.5,273.6 1594.1,273.1 1596.7,272.5 1599.2,271.9 1601.8,271.4 1604.4,270.9 1607.0,270.4 1609.6,269.9 1612.2,269.5 1614.7,269.0 1617.3,268.6 1619.9,268.2 1622.5,267.8 1625.1,267.4 1627.7,267.0 1630.2,266.6 1632.8,266.3 1635.4,265.9 1638.0,265.6 1640.6,265.3 1643.2,265.0 1645.7,264.7 1648.3,264.4 1650.9,264.2 1653.5,263.9 1656.1,263.6 1658.7,263.4 1661.2,263.2 1663.8,262.9 1666.4,262.7 1669.0,262.5 1671.6,262.3 1674.2,262.1 1676.7,261.9 1679.3,261.7 1681.9,261.6 1684.5,261.4 1687.1,261.2 1689.7,261.1 1692.2,260.9 1694.8,260.8 1697.4,260.7 1700.0,260.5 1702.6,260.4 1705.2,260.3 1707.7,260.2 1710.3,260.0 1712.9,259.9 1715.5,259.8 1718.1,259.7 1720.7,259.6 1723.2,259.5 1725.8,259.4 1728.4,259.3 1731.0,259.3 1733.6,259.2 1736.2,259.1 1738.7,259.0 1741.3,259.0 1743.9,258.9 1746.5,258.8 1749.1,258.8 1751.7,258.7 1754.2,258.6 1756.8,258.6 1759.4,258.5 1762.0,258.5 1764.6,258.4 1767.2,258.4 1769.7,258.3 1772.3,258.3 1774.9,258.2 1777.5,258.2" fill="none" stroke="#3498db" stroke-width="5.0" stroke-linejoin="round"/>
<polyline points="1115.1,18.8 1116.1,18.8 1118.7,19.0 1121.3,19.2 1123.9,19.4 1126.5,19.6 1129.1,19.8 1131.6,20.0 1134.2,20.2 1136.8,20.5 1139.4,20.7 1142.0,21.0 1144.6,21.2 1147.1,21.5 1149.7,21.8 1152.3,22.1 1154.9,22.4 1157.5,22.7 1160.1,23.0 1162.6,23.4 1165.2,23.7 1167.8,24.1 1170.4,24.5 1173.0,24.8 1175.6,25.3 1178.1,25.7 1180.7,26.1 1183.3,26.6 1185.9,27.1 1188.5,27.5 1191.1,28.1 1193.6,28.6 1196.2,29.1 1198.8,29.7 1201.4,30.3 1204.0,30.9 1206.6,31.5 1209.1,32.2 1211.7,32.9 1214.3,33.6 1216.9,34.3 1219.5,35.1 1222.1,35.9 1224.6,36.7 1227.2,37.5 1229.8,38.4 1232.4,39.3 1235.0,40.2 1237.6,41.2 1240.1,42.2 1242.7,43.2 1245.3,44.3 1247.9,45.4 1250.5,46.5 1253.1,47.7 1255.6,48.9 1258.2,50.2 1260.8,51.5 1263.4,52.8 1266.0,54.2 1268.6,55.6 1271.1,57.1 1273.7,58.6 1276.3,60.1 1278.9,61.7 1281.5,63.4 1284.1,65.1 1286.6,66.9 1289.2,68.7 1291.8,70.5 1294.4,72.4 1297.0,74.4 1299.6,76.4 1302.1,78.5 1304.7,80.6 1307.3,82.8 1309.9,85.0 1312.5,87.3 1315.1,89.7 1317.6,92.1 1320.2,94.5 1322.8,97.1 1325.4,99.7 1328.0,102.3 1330.6,105.0 1333.1,107.8 1335.7,110.6 1338.3,113.5 1340.9,116.5 1343.5,119.5 1346.1,122.5 1348.6,125.7 1351.2,128.8 1353.8,132.1 1356.4,135.4 1359.0,138.8 1361.6,142.2 1364.1,145.6 1366.7,149.2 1369.3,152.7 1371.9,156.4 1374.5,160.0 1377.1,163.8 1379.6,167.6 1382.2,171.4 1384.8,175.3 1387.4,179.2 1390.0,183.1 1392.6,187.1 1395.1,191.2 1397.7,195.2 1400.3,199.4 1402.9,203.5 1405.5,207.7 1408.1,211.9 1410.6,216.1 1413.2,220.4 1415.8,224.6 1418.4,228.9 1421.0,233.3 1423.6,237.6 1426.1,241.9 1428.7,246.3 1431.3,250.6 1433.9,255.0 1436.5,259.4 1439.1,263.7 1441.7,268.1 1444.2,272.5 1446.8,276.8 1449.4,281.2 1452.0,285.5 1454.6,289.8 1457.2,294.1 1459.7,298.4 1462.3,302.7 1464.9,306.9 1467.5,311.1 1470.1,315.3 1472.7,319.4 1475.2,323.5 1477.8,327.6 1480.4,331.6 1483.0,335.6 1485.6,339.6 1488.2,343.5 1490.7,347.4 1493.3,351.2 1495.9,355.0 1498.5,358.7 1501.1,362.4 1503.7,366.0 1506.2,369.6 1508.8,373.1 1511.4,376.5 1514.0,379.9 1516.6,383.3 1519.2,386.6 1521.7,389.8 1524.3,393.0 1526.9,396.1 1529.5,399.1 1532.1,402.1 1534.7,405.0 1537.2,407.9 1539.8,410.7 1542.4,413.4 1545.0,416.1 1547.6,418.7 1550.2,421.3 1552.7,423.8 1555.3,426.2 1557.9,428.6 1560.5,430.9 1563.1,433.1 1565.7,435.3 1568.2,437.5 1570.8,439.6 1573.4,441.6 1576.0,443.6 1578.6,445.5 1581.2,447.3 1583.7,449.2 1586.3,450.9 1588.9,452.6 1591.5,454.3 1594.1,455.9 1596.7,457.5 1599.2,459.0 1601.8,460.4 1604.4,461.9 1607.0,463.2 1609.6,464.6 1612.2,465.9 1614.7,467.1 1617.3,468.3 1619.9,469.5 1622.5,470.7 1625.1,471.8 1627.7,472.8 1630.2,473.8 1632.8,474.8 1635.4,475.8 1638.0,476.7 1640.6,477.6 1643.2,478.5 1645.7,479.3 1648.3,480.1 1650.9,480.9 1653.5,481.7 1656.1,482.4 1658.7,483.1 1661.2,483.8 1663.8,484.4 1666.4,485.1 1669.0,485.7 1671.6,486.2 1674.2,486.8 1676.7,487.4 1679.3,487.9 1681.9,488.4 1684.5,488.9 1687.1,489.3 1689.7,489.8 1692.2,490.2 1694.8,490.7 1697.4,491.1 1700.0,491.5 1702.6,491.8 1705.2,492.2 1707.7,492.5 1710.3,492.9 1712.9,493.2 1715.5,493.5 1718.1,493.8 1720.7,494.1 1723.2,494.4 1725.8,494.6 1728.4,494.9 1731.0,495.1 1733.6,495.4 1736.2,495.6 1738.7,495.8 1741.3,496.1 1743.9,496.3 1746.5,496.5 1749.1,496.6 1751.7,496.8 1754.2,497.0 1756.8,497.2 1759.4,497.3 1762.0,497.5 1764.6,497.6 1767.2,497.8 1769.7,497.9 1772.3,498.1 1774.9,498.2 1777.5,498.3" fill="none" stroke="#a93226" stroke-width="5.0" stroke-linejoin="round"/>
<polyline points="1118.9,14.5 1121.3,14.6 1123.9,14.8 1126.5,14.9 1129.1,15.0 1131.6,15.2 1134.2,15.3 1136.8,15.5 1139.4,15.6 1142.0,15.8 1144.6,16.0 1147.1,16.2 1149.7,16.4 1152.3,16.5 1154.9,16.7 1157.5,17.0 1160.1,17.2 1162.6,17.4 1165.2,17.6 1167.8,17.9 1170.4,18.1 1173.0,18.4 1175.6,18.7 1178.1,18.9 1180.7,19.2 1183.3,19.5 1185.9,19.8 1188.5,20.2 1191.1,20.5 1193.6,20.9 1196.2,21.2 1198.8,21.6 1201.4,22.0 1204.0,22.4 1206.6,22.8 1209.1,23.2 1211.7,23.7 1214.3,24.1 1216.9,24.6 1219.5,25.1 1222.1,25.6 1224.6,26.2 1227.2,26.7 1229.8,27.3 1232.4,27.9 1235.0,28.5 1237.6,29.1 1240.1,29.8 1242.7,30.4 1245.3,31.1 1247.9,31.8 1250.5,32.6 1253.1,33.3 1255.6,34.1 1258.2,34.9 1260.8,35.8 1263.4,36.6 1266.0,37.5 1268.6,38.4 1271.1,39.4 1273.7,40.3 1276.3,41.3 1278.9,42.3 1281.5,43.4 1284.1,44.5 1286.6,45.6 1289.2,46.7 1291.8,47.9 1294.4,49.1 1297.0,50.4 1299.6,51.6 1302.1,52.9 1304.7,54.2 1307.3,55.6 1309.9,57.0 1312.5,58.4 1315.1,59.9 1317.6,61.4 1320.2,62.9 1322.8,64.5 1325.4,66.1 1328.0,67.7 1330.6,69.3 1333.1,71.0 1335.7,72.7 1338.3,74.5 1340.9,76.3 1343.5,78.1 1346.1,79.9 1348.6,81.8 1351.2,83.6 1353.8,85.6 1356.4,87.5 1359.0,89.5 1361.6,91.5 1364.1,93.5 1366.7,95.6 1369.3,97.6 1371.9,99.7 1374.5,101.8 1377.1,103.9 1379.6,106.1 1382.2,108.2 1384.8,110.4 1387.4,112.6 1390.0,114.8 1392.6,117.0 1395.1,119.3 1397.7,121.5 1400.3,123.7 1402.9,126.0 1405.5,128.2 1408.1,130.5 1410.6,132.7 1413.2,135.0 1415.8,137.2 1418.4,139.5 1421.0,141.7 1423.6,144.0 1426.1,146.2 1428.7,148.4 1431.3,150.7 1433.9,152.9 1436.5,155.1 1439.1,157.2 1441.7,159.4 1444.2,161.5 1446.8,163.7 1449.4,165.8 1452.0,167.9 1454.6,169.9 1457.2,172.0 1459.7,174.0 1462.3,176.0 1464.9,178.0 1467.5,180.0 1470.1,181.9 1472.7,183.8 1475.2,185.7 1477.8,187.5 1480.4,189.3 1483.0,191.1 1485.6,192.9 1488.2,194.6 1490.7,196.3 1493.3,198.0 1495.9,199.6 1498.5,201.2 1501.1,202.8 1503.7,204.3 1506.2,205.8 1508.8,207.3 1511.4,208.7 1514.0,210.1 1516.6,211.5 1519.2,212.9 1521.7,214.2 1524.3,215.5 1526.9,216.7 1529.5,218.0 1532.1,219.2 1534.7,220.3 1537.2,221.5 1539.8,222.6 1542.4,223.6 1545.0,224.7 1547.6,225.7 1550.2,226.7 1552.7,227.6 1555.3,228.6 1557.9,229.5 1560.5,230.4 1563.1,231.2 1565.7,232.1 1568.2,232.9 1570.8,233.6 1573.4,234.4 1576.0,235.1 1578.6,235.8 1581.2,236.5 1583.7,237.2 1586.3,237.8 1588.9,238.5 1591.5,239.1 1594.1,239.7 1596.7,240.2 1599.2,240.8 1601.8,241.3 1604.4,241.8 1607.0,242.3 1609.6,242.8 1612.2,243.3 1614.7,243.7 1617.3,244.1 1619.9,244.6 1622.5,245.0 1625.1,245.4 1627.7,245.7 1630.2,246.1 1632.8,246.4 1635.4,246.8 1638.0,247.1 1640.6,247.4 1643.2,247.7 1645.7,248.0 1648.3,248.3 1650.9,248.6 1653.5,248.8 1656.1,249.1 1658.7,249.3 1661.2,249.6 1663.8,249.8 1666.4,250.0 1669.0,250.2 1671.6,250.4 1674.2,250.6 1676.7,250.8 1679.3,251.0 1681.9,251.1 1684.5,251.3 1687.1,251.5 1689.7,251.6 1692.2,251.8 1694.8,251.9 1697.4,252.1 1700.0,252.2 1702.6,252.3 1705.2,252.4 1707.7,252.6 1710.3,252.7 1712.9,252.8 1715.5,252.9 1718.1,253.0 1720.7,253.1 1723.2,253.2 1725.8,253.3 1728.4,253.4 1731.0,253.4 1733.6,253.5 1736.2,253.6 1738.7,253.7 1741.3,253.8 1743.9,253.8 1746.5,253.9 1749.1,254.0 1751.7,254.0 1754.2,254.1 1756.8,254.1 1759.4,254.2 1762.0,254.2 1764.6,254.3 1767.2,254.3 1769.7,254.4 1772.3,254.4 1774.9,254.5 1777.5,254.5" fill="none" stroke="#000" stroke-width="5.0" stroke-linejoin="round" stroke-dasharray="18.55 8.05"/>
<line x1="1106.30" y1="11.23" x2="1106.30" y2="508.15" stroke="#000" stroke-width="2.7"/>
<line x1="1104.95" y1="506.80" x2="1779.15" y2="506.80" stroke="#000" stroke-width="2.7"/>
<text font-size="33.33"><tspan x="1296.06" y="604.50">E - E</tspan><tspan class="sa" font-size="23.33" x="1376.96" y="591.50">0</tspan><tspan class="cap" font-size="41.00" x="1390.48" y="600.90">′</tspan><tspan x="1398.98" y="604.50"> (V vs SCE)</tspan></text>
<g transform="translate(974.30,477.36) rotate(-90)">
<text x="0.00" y="0.00" font-size="33.33">Fractional Concentration</text>
</g>
<g transform="translate(1012.90,385.14) rotate(-90)">
<text font-size="33.33"><tspan x="0" y="0">(relative to </tspan><tspan class="sa" x="197.50" y="0">c</tspan><tspan class="si" font-size="23.33" x="216.71" y="4.4">M</tspan><tspan x="237.77" y="0">)</tspan></text>
</g>
<text font-size="30.40" fill="#ff0000"><tspan x="1131.99" y="134.70">[Cu(bpy)</tspan><tspan class="sa" font-size="21.28" x="1265.55" y="140.50">2</tspan><tspan x="1279.59" y="134.70">]</tspan><tspan class="sa" font-size="21.28" x="1291.97" y="123.50">1</tspan><tspan class="sa" font-size="21.28" x="1308.85" y="123.50">+</tspan></text>
<text x="1400.94" y="109.80" font-size="33.33">bpy</text>
<text font-size="30.40" fill="#008000"><tspan x="1545.79" y="354.00">[Cu(bpy)</tspan><tspan class="sa" font-size="21.28" x="1679.35" y="359.80">2</tspan><tspan x="1693.39" y="354.00">]</tspan><tspan class="sa" font-size="21.28" x="1705.77" y="342.80">2</tspan><tspan class="sa" font-size="21.28" x="1722.65" y="342.80">+</tspan></text>
<text font-size="30.40" fill="#0000ff"><tspan x="1183.09" y="401.80">[Cu(bpy)</tspan><tspan class="sa" font-size="21.28" x="1316.65" y="407.60">3</tspan><tspan x="1330.69" y="401.80">]</tspan><tspan class="sa" font-size="21.28" x="1343.07" y="390.60">2</tspan><tspan class="sa" font-size="21.28" x="1359.95" y="390.60">+</tspan></text>
<text x="1638.10" y="48.70" font-size="33.33">pH 7.14</text>
<text x="1623.08" y="86.00" font-size="33.33">cL/cM = 3</text>
<text class="cap" font-size="53.0"><tspan class="xl" x="1345.44" y="697.10" font-size="60.1" textLength="26.96" lengthAdjust="spacingAndGlyphs">(</tspan><tspan x="1372.81" y="691.60" textLength="26.50" lengthAdjust="spacingAndGlyphs">b</tspan><tspan class="xl" x="1395.16" y="697.10" font-size="60.1" textLength="26.96" lengthAdjust="spacingAndGlyphs">)</tspan></text>
</g>
<g>
<line x1="144.95" y1="1286.75" x2="175.55" y2="1286.75" stroke="#000" stroke-width="3.33"/>
<text x="132.99" y="1298.25" font-size="27.78" text-anchor="end">0.0</text>
<line x1="160.25" y1="1266.07" x2="170.15" y2="1266.07" stroke="#000" stroke-width="3.33"/>
<line x1="160.25" y1="1245.39" x2="170.15" y2="1245.39" stroke="#000" stroke-width="3.33"/>
<line x1="160.25" y1="1224.70" x2="170.15" y2="1224.70" stroke="#000" stroke-width="3.33"/>
<line x1="160.25" y1="1204.02" x2="170.15" y2="1204.02" stroke="#000" stroke-width="3.33"/>
<line x1="144.95" y1="1183.34" x2="175.55" y2="1183.34" stroke="#000" stroke-width="3.33"/>
<text x="133.88" y="1194.84" font-size="27.78" text-anchor="end">0.2</text>
<line x1="160.25" y1="1162.66" x2="170.15" y2="1162.66" stroke="#000" stroke-width="3.33"/>
<line x1="160.25" y1="1141.98" x2="170.15" y2="1141.98" stroke="#000" stroke-width="3.33"/>
<line x1="160.25" y1="1121.29" x2="170.15" y2="1121.29" stroke="#000" stroke-width="3.33"/>
<line x1="160.25" y1="1100.61" x2="170.15" y2="1100.61" stroke="#000" stroke-width="3.33"/>
<line x1="144.95" y1="1079.93" x2="175.55" y2="1079.93" stroke="#000" stroke-width="3.33"/>
<text x="132.55" y="1091.43" font-size="27.78" text-anchor="end">0.4</text>
<line x1="160.25" y1="1059.25" x2="170.15" y2="1059.25" stroke="#000" stroke-width="3.33"/>
<line x1="160.25" y1="1038.57" x2="170.15" y2="1038.57" stroke="#000" stroke-width="3.33"/>
<line x1="160.25" y1="1017.88" x2="170.15" y2="1017.88" stroke="#000" stroke-width="3.33"/>
<line x1="160.25" y1="997.20" x2="170.15" y2="997.20" stroke="#000" stroke-width="3.33"/>
<line x1="144.95" y1="976.52" x2="175.55" y2="976.52" stroke="#000" stroke-width="3.33"/>
<text x="132.90" y="988.02" font-size="27.78" text-anchor="end">0.6</text>
<line x1="160.25" y1="955.84" x2="170.15" y2="955.84" stroke="#000" stroke-width="3.33"/>
<line x1="160.25" y1="935.16" x2="170.15" y2="935.16" stroke="#000" stroke-width="3.33"/>
<line x1="160.25" y1="914.47" x2="170.15" y2="914.47" stroke="#000" stroke-width="3.33"/>
<line x1="160.25" y1="893.79" x2="170.15" y2="893.79" stroke="#000" stroke-width="3.33"/>
<line x1="144.95" y1="873.11" x2="175.55" y2="873.11" stroke="#000" stroke-width="3.33"/>
<text x="133.02" y="884.61" font-size="27.78" text-anchor="end">0.8</text>
<line x1="160.25" y1="852.43" x2="170.15" y2="852.43" stroke="#000" stroke-width="3.33"/>
<line x1="160.25" y1="831.75" x2="170.15" y2="831.75" stroke="#000" stroke-width="3.33"/>
<line x1="160.25" y1="811.06" x2="170.15" y2="811.06" stroke="#000" stroke-width="3.33"/>
<line x1="160.25" y1="790.38" x2="170.15" y2="790.38" stroke="#000" stroke-width="3.33"/>
<line x1="144.95" y1="769.70" x2="175.55" y2="769.70" stroke="#000" stroke-width="3.33"/>
<text x="132.99" y="781.20" font-size="27.78" text-anchor="end">1.0</text>
<line x1="160.25" y1="1276.70" x2="160.25" y2="1307.30" stroke="#000" stroke-width="3.33"/>
<text x="159.65" y="1340.60" font-size="27.78" text-anchor="middle">−0.15</text>
<line x1="222.03" y1="1282.10" x2="222.03" y2="1292.00" stroke="#000" stroke-width="3.33"/>
<line x1="283.81" y1="1276.70" x2="283.81" y2="1307.30" stroke="#000" stroke-width="3.33"/>
<text x="283.21" y="1340.60" font-size="27.78" text-anchor="middle">−0.10</text>
<line x1="345.59" y1="1282.10" x2="345.59" y2="1292.00" stroke="#000" stroke-width="3.33"/>
<line x1="407.37" y1="1276.70" x2="407.37" y2="1307.30" stroke="#000" stroke-width="3.33"/>
<text x="406.77" y="1340.60" font-size="27.78" text-anchor="middle">−0.05</text>
<line x1="469.14" y1="1282.10" x2="469.14" y2="1292.00" stroke="#000" stroke-width="3.33"/>
<line x1="530.92" y1="1276.70" x2="530.92" y2="1307.30" stroke="#000" stroke-width="3.33"/>
<text x="530.32" y="1340.60" font-size="27.78" text-anchor="middle">0.00</text>
<line x1="592.70" y1="1282.10" x2="592.70" y2="1292.00" stroke="#000" stroke-width="3.33"/>
<line x1="654.48" y1="1276.70" x2="654.48" y2="1307.30" stroke="#000" stroke-width="3.33"/>
<text x="653.88" y="1340.60" font-size="27.78" text-anchor="middle">0.05</text>
<line x1="716.26" y1="1282.10" x2="716.26" y2="1292.00" stroke="#000" stroke-width="3.33"/>
<line x1="778.04" y1="1276.70" x2="778.04" y2="1307.30" stroke="#000" stroke-width="3.33"/>
<text x="777.44" y="1340.60" font-size="27.78" text-anchor="middle">0.10</text>
<polyline points="160.2,1281.4 162.7,1281.2 165.2,1281.0 167.7,1280.7 170.1,1280.5 172.6,1280.3 175.1,1280.0 177.5,1279.7 180.0,1279.5 182.5,1279.2 185.0,1278.9 187.4,1278.6 189.9,1278.2 192.4,1277.9 194.8,1277.6 197.3,1277.2 199.8,1276.8 202.3,1276.4 204.7,1276.0 207.2,1275.6 209.7,1275.2 212.1,1274.7 214.6,1274.3 217.1,1273.8 219.6,1273.3 222.0,1272.8 224.5,1272.2 227.0,1271.7 229.4,1271.1 231.9,1270.5 234.4,1269.9 236.9,1269.2 239.3,1268.6 241.8,1267.9 244.3,1267.2 246.7,1266.4 249.2,1265.7 251.7,1264.9 254.2,1264.1 256.6,1263.2 259.1,1262.4 261.6,1261.5 264.0,1260.5 266.5,1259.6 269.0,1258.6 271.5,1257.5 273.9,1256.5 276.4,1255.4 278.9,1254.2 281.3,1253.1 283.8,1251.9 286.3,1250.6 288.8,1249.3 291.2,1248.0 293.7,1246.7 296.2,1245.3 298.6,1243.8 301.1,1242.3 303.6,1240.8 306.0,1239.2 308.5,1237.6 311.0,1236.0 313.5,1234.3 315.9,1232.5 318.4,1230.7 320.9,1228.9 323.3,1227.0 325.8,1225.0 328.3,1223.0 330.8,1221.0 333.2,1218.9 335.7,1216.8 338.2,1214.6 340.6,1212.4 343.1,1210.1 345.6,1207.8 348.1,1205.4 350.5,1203.0 353.0,1200.5 355.5,1198.0 357.9,1195.4 360.4,1192.8 362.9,1190.1 365.4,1187.4 367.8,1184.6 370.3,1181.8 372.8,1179.0 375.2,1176.1 377.7,1173.2 380.2,1170.2 382.7,1167.2 385.1,1164.2 387.6,1161.1 390.1,1158.0 392.5,1154.8 395.0,1151.7 397.5,1148.4 400.0,1145.2 402.4,1141.9 404.9,1138.7 407.4,1135.3 409.8,1132.0 412.3,1128.7 414.8,1125.3 417.2,1121.9 419.7,1118.5 422.2,1115.1 424.7,1111.7 427.1,1108.3 429.6,1104.9 432.1,1101.5 434.5,1098.0 437.0,1094.6 439.5,1091.2 442.0,1087.8 444.4,1084.4 446.9,1081.0 449.4,1077.6 451.8,1074.3 454.3,1070.9 456.8,1067.6 459.3,1064.3 461.7,1061.0 464.2,1057.7 466.7,1054.5 469.1,1051.3 471.6,1048.1 474.1,1045.0 476.6,1041.9 479.0,1038.8 481.5,1035.8 484.0,1032.8 486.4,1029.8 488.9,1026.9 491.4,1024.0 493.9,1021.2 496.3,1018.4 498.8,1015.6 501.3,1012.9 503.7,1010.2 506.2,1007.6 508.7,1005.1 511.2,1002.5 513.6,1000.0 516.1,997.6 518.6,995.2 521.0,992.9 523.5,990.6 526.0,988.4 528.5,986.2 530.9,984.0 533.4,981.9 535.9,979.9 538.3,977.9 540.8,975.9 543.3,974.0 545.8,972.2 548.2,970.4 550.7,968.6 553.2,966.9 555.6,965.2 558.1,963.6 560.6,962.0 563.0,960.4 565.5,958.9 568.0,957.5 570.5,956.1 572.9,954.7 575.4,953.4 577.9,952.1 580.3,950.8 582.8,949.6 585.3,948.4 587.8,947.2 590.2,946.1 592.7,945.0 595.2,944.0 597.6,943.0 600.1,942.0 602.6,941.0 605.1,940.1 607.5,939.2 610.0,938.4 612.5,937.5 614.9,936.7 617.4,935.9 619.9,935.2 622.4,934.5 624.8,933.8 627.3,933.1 629.8,932.4 632.2,931.8 634.7,931.2 637.2,930.6 639.7,930.0 642.1,929.5 644.6,928.9 647.1,928.4 649.5,927.9 652.0,927.4 654.5,927.0 657.0,926.5 659.4,926.1 661.9,925.7 664.4,925.3 666.8,924.9 669.3,924.5 671.8,924.2 674.2,923.8 676.7,923.5 679.2,923.2 681.7,922.9 684.1,922.6 686.6,922.3 689.1,922.0 691.5,921.8 694.0,921.5 696.5,921.3 699.0,921.0 701.4,920.8 703.9,920.6 706.4,920.4 708.8,920.2 711.3,920.0 713.8,919.8 716.3,919.6 718.7,919.4 721.2,919.3 723.7,919.1 726.1,919.0 728.6,918.8 731.1,918.7 733.6,918.5 736.0,918.4 738.5,918.3 741.0,918.1 743.4,918.0 745.9,917.9 748.4,917.8 750.9,917.7 753.3,917.6 755.8,917.5 758.3,917.4 760.7,917.3 763.2,917.2 765.7,917.1 768.2,917.1 770.6,917.0 773.1,916.9 775.6,916.8 778.0,916.8 780.5,916.7 783.0,916.6 785.5,916.6 787.9,916.5 790.4,916.5 792.9,916.4 795.3,916.4 797.8,916.3 800.3,916.3 802.8,916.2" fill="none" stroke="#3498db" stroke-width="5.0" stroke-linejoin="round"/>
<polyline points="160.2,777.2 162.7,777.4 165.2,777.7 167.7,778.0 170.1,778.3 172.6,778.6 175.1,778.9 177.5,779.3 180.0,779.6 182.5,780.0 185.0,780.3 187.4,780.7 189.9,781.1 192.4,781.6 194.8,782.0 197.3,782.4 199.8,782.9 202.3,783.4 204.7,783.9 207.2,784.4 209.7,785.0 212.1,785.5 214.6,786.1 217.1,786.7 219.6,787.3 222.0,788.0 224.5,788.7 227.0,789.4 229.4,790.1 231.9,790.8 234.4,791.6 236.9,792.4 239.3,793.3 241.8,794.1 244.3,795.0 246.7,795.9 249.2,796.9 251.7,797.9 254.2,798.9 256.6,800.0 259.1,801.1 261.6,802.2 264.0,803.4 266.5,804.6 269.0,805.9 271.5,807.2 273.9,808.5 276.4,809.9 278.9,811.4 281.3,812.8 283.8,814.4 286.3,815.9 288.8,817.6 291.2,819.2 293.7,821.0 296.2,822.7 298.6,824.6 301.1,826.5 303.6,828.4 306.0,830.4 308.5,832.5 311.0,834.6 313.5,836.8 315.9,839.0 318.4,841.3 320.9,843.6 323.3,846.1 325.8,848.6 328.3,851.1 330.8,853.7 333.2,856.4 335.7,859.1 338.2,861.9 340.6,864.8 343.1,867.8 345.6,870.8 348.1,873.9 350.5,877.0 353.0,880.2 355.5,883.5 357.9,886.8 360.4,890.2 362.9,893.7 365.4,897.2 367.8,900.8 370.3,904.5 372.8,908.2 375.2,912.0 377.7,915.8 380.2,919.7 382.7,923.7 385.1,927.7 387.6,931.8 390.1,935.9 392.5,940.1 395.0,944.3 397.5,948.6 400.0,952.9 402.4,957.2 404.9,961.6 407.4,966.1 409.8,970.5 412.3,975.0 414.8,979.6 417.2,984.2 419.7,988.7 422.2,993.4 424.7,998.0 427.1,1002.7 429.6,1007.3 432.1,1012.0 434.5,1016.7 437.0,1021.4 439.5,1026.1 442.0,1030.8 444.4,1035.5 446.9,1040.2 449.4,1044.9 451.8,1049.6 454.3,1054.3 456.8,1058.9 459.3,1063.6 461.7,1068.2 464.2,1072.8 466.7,1077.3 469.1,1081.9 471.6,1086.4 474.1,1090.8 476.6,1095.3 479.0,1099.7 481.5,1104.0 484.0,1108.3 486.4,1112.6 488.9,1116.8 491.4,1121.0 493.9,1125.1 496.3,1129.1 498.8,1133.2 501.3,1137.1 503.7,1141.0 506.2,1144.8 508.7,1148.6 511.2,1152.3 513.6,1156.0 516.1,1159.6 518.6,1163.1 521.0,1166.6 523.5,1170.0 526.0,1173.3 528.5,1176.6 530.9,1179.8 533.4,1183.0 535.9,1186.0 538.3,1189.0 540.8,1192.0 543.3,1194.9 545.8,1197.7 548.2,1200.4 550.7,1203.1 553.2,1205.7 555.6,1208.3 558.1,1210.8 560.6,1213.2 563.0,1215.6 565.5,1217.9 568.0,1220.1 570.5,1222.3 572.9,1224.4 575.4,1226.5 577.9,1228.5 580.3,1230.4 582.8,1232.3 585.3,1234.2 587.8,1235.9 590.2,1237.7 592.7,1239.4 595.2,1241.0 597.6,1242.6 600.1,1244.1 602.6,1245.6 605.1,1247.0 607.5,1248.4 610.0,1249.8 612.5,1251.1 614.9,1252.3 617.4,1253.6 619.9,1254.7 622.4,1255.9 624.8,1257.0 627.3,1258.1 629.8,1259.1 632.2,1260.1 634.7,1261.1 637.2,1262.0 639.7,1262.9 642.1,1263.8 644.6,1264.6 647.1,1265.4 649.5,1266.2 652.0,1267.0 654.5,1267.7 657.0,1268.4 659.4,1269.1 661.9,1269.7 664.4,1270.4 666.8,1271.0 669.3,1271.6 671.8,1272.1 674.2,1272.7 676.7,1273.2 679.2,1273.7 681.7,1274.2 684.1,1274.7 686.6,1275.1 689.1,1275.6 691.5,1276.0 694.0,1276.4 696.5,1276.8 699.0,1277.2 701.4,1277.5 703.9,1277.9 706.4,1278.2 708.8,1278.5 711.3,1278.9 713.8,1279.2 716.3,1279.4 718.7,1279.7 721.2,1280.0 723.7,1280.2 726.1,1280.5 728.6,1280.7 731.1,1281.0 733.6,1281.2 736.0,1281.4 738.5,1281.6 741.0,1281.8 743.4,1282.0 745.9,1282.2 748.4,1282.4 750.9,1282.5 753.3,1282.7 755.8,1282.8 758.3,1283.0 760.7,1283.1 763.2,1283.3 765.7,1283.4 768.2,1283.5 770.6,1283.7 773.1,1283.8 775.6,1283.9 778.0,1284.0 780.5,1284.1 783.0,1284.2 785.5,1284.3 787.9,1284.4 790.4,1284.5 792.9,1284.6 795.3,1284.7 797.8,1284.7 800.3,1284.8 802.8,1284.9" fill="none" stroke="#a93226" stroke-width="5.0" stroke-linejoin="round"/>
<polyline points="166.3,1285.3 167.7,1285.2 170.1,1285.2 172.6,1285.1 175.1,1285.1 177.5,1285.0 180.0,1284.9 182.5,1284.8 185.0,1284.8 187.4,1284.7 189.9,1284.6 192.4,1284.5 194.8,1284.4 197.3,1284.3 199.8,1284.2 202.3,1284.1 204.7,1284.0 207.2,1283.9 209.7,1283.8 212.1,1283.7 214.6,1283.6 217.1,1283.5 219.6,1283.3 222.0,1283.2 224.5,1283.1 227.0,1282.9 229.4,1282.8 231.9,1282.6 234.4,1282.5 236.9,1282.3 239.3,1282.1 241.8,1282.0 244.3,1281.8 246.7,1281.6 249.2,1281.4 251.7,1281.2 254.2,1281.0 256.6,1280.7 259.1,1280.5 261.6,1280.3 264.0,1280.0 266.5,1279.8 269.0,1279.5 271.5,1279.2 273.9,1279.0 276.4,1278.7 278.9,1278.4 281.3,1278.1 283.8,1277.7 286.3,1277.4 288.8,1277.1 291.2,1276.7 293.7,1276.3 296.2,1276.0 298.6,1275.6 301.1,1275.2 303.6,1274.7 306.0,1274.3 308.5,1273.9 311.0,1273.4 313.5,1272.9 315.9,1272.4 318.4,1271.9 320.9,1271.4 323.3,1270.9 325.8,1270.4 328.3,1269.8 330.8,1269.2 333.2,1268.6 335.7,1268.0 338.2,1267.4 340.6,1266.7 343.1,1266.1 345.6,1265.4 348.1,1264.7 350.5,1264.0 353.0,1263.2 355.5,1262.5 357.9,1261.7 360.4,1260.9 362.9,1260.1 365.4,1259.3 367.8,1258.4 370.3,1257.6 372.8,1256.7 375.2,1255.8 377.7,1254.9 380.2,1253.9 382.7,1253.0 385.1,1252.0 387.6,1251.0 390.1,1250.0 392.5,1249.0 395.0,1247.9 397.5,1246.9 400.0,1245.8 402.4,1244.7 404.9,1243.6 407.4,1242.4 409.8,1241.3 412.3,1240.1 414.8,1239.0 417.2,1237.8 419.7,1236.6 422.2,1235.3 424.7,1234.1 427.1,1232.9 429.6,1231.6 432.1,1230.4 434.5,1229.1 437.0,1227.8 439.5,1226.5 442.0,1225.2 444.4,1223.9 446.9,1222.6 449.4,1221.3 451.8,1219.9 454.3,1218.6 456.8,1217.3 459.3,1215.9 461.7,1214.6 464.2,1213.3 466.7,1211.9 469.1,1210.6 471.6,1209.3 474.1,1207.9 476.6,1206.6 479.0,1205.3 481.5,1204.0 484.0,1202.6 486.4,1201.3 488.9,1200.0 491.4,1198.8 493.9,1197.5 496.3,1196.2 498.8,1194.9 501.3,1193.7 503.7,1192.5 506.2,1191.2 508.7,1190.0 511.2,1188.8 513.6,1187.6 516.1,1186.5 518.6,1185.3 521.0,1184.2 523.5,1183.1 526.0,1182.0 528.5,1180.9 530.9,1179.8 533.4,1178.8 535.9,1177.7 538.3,1176.7 540.8,1175.7 543.3,1174.8 545.8,1173.8 548.2,1172.9 550.7,1171.9 553.2,1171.0 555.6,1170.2 558.1,1169.3 560.6,1168.5 563.0,1167.6 565.5,1166.8 568.0,1166.1 570.5,1165.3 572.9,1164.5 575.4,1163.8 577.9,1163.1 580.3,1162.4 582.8,1161.7 585.3,1161.1 587.8,1160.5 590.2,1159.8 592.7,1159.2 595.2,1158.7 597.6,1158.1 600.1,1157.5 602.6,1157.0 605.1,1156.5 607.5,1156.0 610.0,1155.5 612.5,1155.0 614.9,1154.5 617.4,1154.1 619.9,1153.7 622.4,1153.3 624.8,1152.8 627.3,1152.5 629.8,1152.1 632.2,1151.7 634.7,1151.4 637.2,1151.0 639.7,1150.7 642.1,1150.4 644.6,1150.0 647.1,1149.7 649.5,1149.5 652.0,1149.2 654.5,1148.9 657.0,1148.6 659.4,1148.4 661.9,1148.1 664.4,1147.9 666.8,1147.7 669.3,1147.5 671.8,1147.3 674.2,1147.1 676.7,1146.9 679.2,1146.7 681.7,1146.5 684.1,1146.3 686.6,1146.1 689.1,1146.0 691.5,1145.8 694.0,1145.7 696.5,1145.5 699.0,1145.4 701.4,1145.2 703.9,1145.1 706.4,1145.0 708.8,1144.9 711.3,1144.7 713.8,1144.6 716.3,1144.5 718.7,1144.4 721.2,1144.3 723.7,1144.2 726.1,1144.1 728.6,1144.0 731.1,1144.0 733.6,1143.9 736.0,1143.8 738.5,1143.7 741.0,1143.6 743.4,1143.6 745.9,1143.5 748.4,1143.4 750.9,1143.4 753.3,1143.3 755.8,1143.2 758.3,1143.2 760.7,1143.1 763.2,1143.1 765.7,1143.0 768.2,1143.0 770.6,1142.9 773.1,1142.9 775.6,1142.8 778.0,1142.8 780.5,1142.8 783.0,1142.7 785.5,1142.7 787.9,1142.7 790.4,1142.6 792.9,1142.6 795.3,1142.6 797.8,1142.5 800.3,1142.5 802.8,1142.5" fill="none" stroke="#27ae60" stroke-width="5.0" stroke-linejoin="round" stroke-dasharray="18.55 8.05"/>
<line x1="160.25" y1="768.04" x2="160.25" y2="1293.35" stroke="#000" stroke-width="2.7"/>
<line x1="158.90" y1="1292.00" x2="804.10" y2="1292.00" stroke="#000" stroke-width="2.7"/>
<line x1="787.45" y1="1292.00" x2="818.05" y2="1292.00" stroke="#000" stroke-width="3.33"/>
<text x="827.96" y="1303.20" font-size="27.78">1.0</text>
<line x1="792.85" y1="1271.11" x2="802.75" y2="1271.11" stroke="#000" stroke-width="3.33"/>
<line x1="792.85" y1="1250.22" x2="802.75" y2="1250.22" stroke="#000" stroke-width="3.33"/>
<line x1="792.85" y1="1229.32" x2="802.75" y2="1229.32" stroke="#000" stroke-width="3.33"/>
<line x1="792.85" y1="1208.43" x2="802.75" y2="1208.43" stroke="#000" stroke-width="3.33"/>
<line x1="787.45" y1="1187.54" x2="818.05" y2="1187.54" stroke="#000" stroke-width="3.33"/>
<text x="827.96" y="1198.74" font-size="27.78">1.2</text>
<line x1="792.85" y1="1166.65" x2="802.75" y2="1166.65" stroke="#000" stroke-width="3.33"/>
<line x1="792.85" y1="1145.76" x2="802.75" y2="1145.76" stroke="#000" stroke-width="3.33"/>
<line x1="792.85" y1="1124.86" x2="802.75" y2="1124.86" stroke="#000" stroke-width="3.33"/>
<line x1="792.85" y1="1103.97" x2="802.75" y2="1103.97" stroke="#000" stroke-width="3.33"/>
<line x1="787.45" y1="1083.08" x2="818.05" y2="1083.08" stroke="#000" stroke-width="3.33"/>
<text x="827.96" y="1094.28" font-size="27.78">1.4</text>
<line x1="792.85" y1="1062.19" x2="802.75" y2="1062.19" stroke="#000" stroke-width="3.33"/>
<line x1="792.85" y1="1041.30" x2="802.75" y2="1041.30" stroke="#000" stroke-width="3.33"/>
<line x1="792.85" y1="1020.40" x2="802.75" y2="1020.40" stroke="#000" stroke-width="3.33"/>
<line x1="792.85" y1="999.51" x2="802.75" y2="999.51" stroke="#000" stroke-width="3.33"/>
<line x1="787.45" y1="978.62" x2="818.05" y2="978.62" stroke="#000" stroke-width="3.33"/>
<text x="827.96" y="989.82" font-size="27.78">1.6</text>
<line x1="792.85" y1="957.73" x2="802.75" y2="957.73" stroke="#000" stroke-width="3.33"/>
<line x1="792.85" y1="936.84" x2="802.75" y2="936.84" stroke="#000" stroke-width="3.33"/>
<line x1="792.85" y1="915.94" x2="802.75" y2="915.94" stroke="#000" stroke-width="3.33"/>
<line x1="792.85" y1="895.05" x2="802.75" y2="895.05" stroke="#000" stroke-width="3.33"/>
<line x1="787.45" y1="874.16" x2="818.05" y2="874.16" stroke="#000" stroke-width="3.33"/>
<text x="827.96" y="885.36" font-size="27.78">1.8</text>
<line x1="792.85" y1="853.27" x2="802.75" y2="853.27" stroke="#000" stroke-width="3.33"/>
<line x1="792.85" y1="832.38" x2="802.75" y2="832.38" stroke="#000" stroke-width="3.33"/>
<line x1="792.85" y1="811.48" x2="802.75" y2="811.48" stroke="#000" stroke-width="3.33"/>
<line x1="792.85" y1="790.59" x2="802.75" y2="790.59" stroke="#000" stroke-width="3.33"/>
<line x1="787.45" y1="769.70" x2="818.05" y2="769.70" stroke="#000" stroke-width="3.33"/>
<text x="829.46" y="780.90" font-size="27.78">2.0</text>
<polyline points="167.0,774.9 167.7,775.0 170.1,775.2 172.6,775.5 175.1,775.7 177.5,776.0 180.0,776.3 182.5,776.6 185.0,776.9 187.4,777.2 189.9,777.5 192.4,777.9 194.8,778.2 197.3,778.6 199.8,778.9 202.3,779.3 204.7,779.7 207.2,780.2 209.7,780.6 212.1,781.1 214.6,781.5 217.1,782.0 219.6,782.5 222.0,783.0 224.5,783.6 227.0,784.1 229.4,784.7 231.9,785.3 234.4,786.0 236.9,786.6 239.3,787.3 241.8,788.0 244.3,788.7 246.7,789.4 249.2,790.2 251.7,791.0 254.2,791.8 256.6,792.7 259.1,793.6 261.6,794.5 264.0,795.4 266.5,796.4 269.0,797.4 271.5,798.4 273.9,799.5 276.4,800.6 278.9,801.8 281.3,803.0 283.8,804.2 286.3,805.4 288.8,806.7 291.2,808.1 293.7,809.4 296.2,810.9 298.6,812.3 301.1,813.8 303.6,815.4 306.0,816.9 308.5,818.6 311.0,820.3 313.5,822.0 315.9,823.7 318.4,825.6 320.9,827.4 323.3,829.3 325.8,831.3 328.3,833.3 330.8,835.4 333.2,837.5 335.7,839.6 338.2,841.8 340.6,844.1 343.1,846.4 345.6,848.8 348.1,851.2 350.5,853.6 353.0,856.1 355.5,858.7 357.9,861.3 360.4,863.9 362.9,866.6 365.4,869.4 367.8,872.1 370.3,875.0 372.8,877.9 375.2,880.8 377.7,883.7 380.2,886.7 382.7,889.8 385.1,892.8 387.6,896.0 390.1,899.1 392.5,902.3 395.0,905.5 397.5,908.7 400.0,912.0 402.4,915.3 404.9,918.6 407.4,922.0 409.8,925.3 412.3,928.7 414.8,932.1 417.2,935.6 419.7,939.0 422.2,942.4 424.7,945.9 427.1,949.3 429.6,952.8 432.1,956.3 434.5,959.7 437.0,963.2 439.5,966.6 442.0,970.1 444.4,973.5 446.9,976.9 449.4,980.4 451.8,983.8 454.3,987.1 456.8,990.5 459.3,993.8 461.7,997.2 464.2,1000.5 466.7,1003.7 469.1,1007.0 471.6,1010.2 474.1,1013.3 476.6,1016.5 479.0,1019.6 481.5,1022.7 484.0,1025.7 486.4,1028.7 488.9,1031.7 491.4,1034.6 493.9,1037.4 496.3,1040.3 498.8,1043.1 501.3,1045.8 503.7,1048.5 506.2,1051.1 508.7,1053.7 511.2,1056.3 513.6,1058.8 516.1,1061.3 518.6,1063.7 521.0,1066.0 523.5,1068.4 526.0,1070.6 528.5,1072.8 530.9,1075.0 533.4,1077.1 535.9,1079.2 538.3,1081.2 540.8,1083.2 543.3,1085.1 545.8,1087.0 548.2,1088.8 550.7,1090.6 553.2,1092.4 555.6,1094.0 558.1,1095.7 560.6,1097.3 563.0,1098.9 565.5,1100.4 568.0,1101.9 570.5,1103.3 572.9,1104.7 575.4,1106.0 577.9,1107.4 580.3,1108.6 582.8,1109.9 585.3,1111.1 587.8,1112.2 590.2,1113.4 592.7,1114.5 595.2,1115.5 597.6,1116.5 600.1,1117.5 602.6,1118.5 605.1,1119.4 607.5,1120.3 610.0,1121.2 612.5,1122.1 614.9,1122.9 617.4,1123.7 619.9,1124.4 622.4,1125.2 624.8,1125.9 627.3,1126.6 629.8,1127.2 632.2,1127.9 634.7,1128.5 637.2,1129.1 639.7,1129.7 642.1,1130.2 644.6,1130.8 647.1,1131.3 649.5,1131.8 652.0,1132.3 654.5,1132.7 657.0,1133.2 659.4,1133.6 661.9,1134.0 664.4,1134.4 666.8,1134.8 669.3,1135.2 671.8,1135.5 674.2,1135.9 676.7,1136.2 679.2,1136.6 681.7,1136.9 684.1,1137.2 686.6,1137.5 689.1,1137.7 691.5,1138.0 694.0,1138.3 696.5,1138.5 699.0,1138.7 701.4,1139.0 703.9,1139.2 706.4,1139.4 708.8,1139.6 711.3,1139.8 713.8,1140.0 716.3,1140.2 718.7,1140.4 721.2,1140.5 723.7,1140.7 726.1,1140.8 728.6,1141.0 731.1,1141.1 733.6,1141.3 736.0,1141.4 738.5,1141.5 741.0,1141.7 743.4,1141.8 745.9,1141.9 748.4,1142.0 750.9,1142.1 753.3,1142.2 755.8,1142.3 758.3,1142.4 760.7,1142.5 763.2,1142.6 765.7,1142.7 768.2,1142.8 770.6,1142.8 773.1,1142.9 775.6,1143.0 778.0,1143.1 780.5,1143.1 783.0,1143.2 785.5,1143.3 787.9,1143.3 790.4,1143.4 792.9,1143.4 795.3,1143.5 797.8,1143.5 800.3,1143.6 802.8,1143.6" fill="none" stroke="#000" stroke-width="5.0" stroke-linejoin="round" stroke-dasharray="18.55 8.05"/>
<line x1="802.75" y1="768.04" x2="802.75" y2="1293.35" stroke="#000" stroke-width="2.7"/>
<text font-size="33.33"><tspan x="335.26" y="1389.80">E - E</tspan><tspan class="sa" font-size="23.33" x="416.16" y="1376.80">0</tspan><tspan class="cap" font-size="41.00" x="429.68" y="1386.20">′</tspan><tspan x="438.98" y="1389.80"> (V vs SCE)</tspan></text>
<g transform="translate(28.40,1248.86) rotate(-90)">
<text x="0.00" y="0.00" font-size="33.33">Fractional Concentration</text>
</g>
<g transform="translate(67.00,1156.64) rotate(-90)">
<text font-size="33.33"><tspan x="0" y="0">(relative to </tspan><tspan class="sa" x="197.50" y="0">c</tspan><tspan class="si" font-size="23.33" x="216.71" y="4.4">M</tspan><tspan x="237.77" y="0">)</tspan></text>
</g>
<text font-size="30.40" fill="#a93226"><tspan x="185.19" y="951.90">[Cu(bpy)</tspan><tspan class="sa" font-size="21.28" x="318.75" y="957.70">2</tspan><tspan x="332.79" y="951.90">]</tspan><tspan class="sa" font-size="21.28" x="345.17" y="940.70">1</tspan><tspan class="sa" font-size="21.28" x="362.05" y="940.70">+</tspan></text>
<text x="347.84" y="832.40" font-size="33.33">bpy</text>
<text font-size="30.40" fill="#27ae60"><tspan x="593.09" y="1199.50">[Cu(bpy)</tspan><tspan class="sa" font-size="21.28" x="726.65" y="1205.30">2</tspan><tspan x="740.69" y="1199.50">]</tspan><tspan class="sa" font-size="21.28" x="753.07" y="1188.30">2</tspan><tspan class="sa" font-size="21.28" x="769.95" y="1188.30">+</tspan></text>
<text font-size="30.40" fill="#3498db"><tspan x="577.79" y="908.10">[Cu(bpy)</tspan><tspan class="sa" font-size="21.28" x="711.35" y="913.90">3</tspan><tspan x="725.39" y="908.10">]</tspan><tspan class="sa" font-size="21.28" x="737.77" y="896.90">2</tspan><tspan class="sa" font-size="21.28" x="754.65" y="896.90">+</tspan></text>
<text x="224.15" y="1045.00" font-size="33.33">pH 7.14</text>
<text x="209.34" y="1081.60" font-size="33.33">cL/cM = 4</text>
<text class="cap" font-size="53.0"><tspan class="xl" x="402.14" y="1490.70" font-size="60.1" textLength="26.96" lengthAdjust="spacingAndGlyphs">(</tspan><tspan x="425.50" y="1485.20" textLength="24.50" lengthAdjust="spacingAndGlyphs">c</tspan><tspan class="xl" x="446.06" y="1490.70" font-size="60.1" textLength="26.96" lengthAdjust="spacingAndGlyphs">)</tspan></text>
</g>
<g>
<line x1="1091.00" y1="1286.75" x2="1121.60" y2="1286.75" stroke="#000" stroke-width="3.33"/>
<text x="1079.04" y="1298.25" font-size="27.78" text-anchor="end">0.0</text>
<line x1="1106.30" y1="1266.07" x2="1116.20" y2="1266.07" stroke="#000" stroke-width="3.33"/>
<line x1="1106.30" y1="1245.39" x2="1116.20" y2="1245.39" stroke="#000" stroke-width="3.33"/>
<line x1="1106.30" y1="1224.70" x2="1116.20" y2="1224.70" stroke="#000" stroke-width="3.33"/>
<line x1="1106.30" y1="1204.02" x2="1116.20" y2="1204.02" stroke="#000" stroke-width="3.33"/>
<line x1="1091.00" y1="1183.34" x2="1121.60" y2="1183.34" stroke="#000" stroke-width="3.33"/>
<text x="1079.93" y="1194.84" font-size="27.78" text-anchor="end">0.2</text>
<line x1="1106.30" y1="1162.66" x2="1116.20" y2="1162.66" stroke="#000" stroke-width="3.33"/>
<line x1="1106.30" y1="1141.98" x2="1116.20" y2="1141.98" stroke="#000" stroke-width="3.33"/>
<line x1="1106.30" y1="1121.29" x2="1116.20" y2="1121.29" stroke="#000" stroke-width="3.33"/>
<line x1="1106.30" y1="1100.61" x2="1116.20" y2="1100.61" stroke="#000" stroke-width="3.33"/>
<line x1="1091.00" y1="1079.93" x2="1121.60" y2="1079.93" stroke="#000" stroke-width="3.33"/>
<text x="1078.60" y="1091.43" font-size="27.78" text-anchor="end">0.4</text>
<line x1="1106.30" y1="1059.25" x2="1116.20" y2="1059.25" stroke="#000" stroke-width="3.33"/>
<line x1="1106.30" y1="1038.57" x2="1116.20" y2="1038.57" stroke="#000" stroke-width="3.33"/>
<line x1="1106.30" y1="1017.88" x2="1116.20" y2="1017.88" stroke="#000" stroke-width="3.33"/>
<line x1="1106.30" y1="997.20" x2="1116.20" y2="997.20" stroke="#000" stroke-width="3.33"/>
<line x1="1091.00" y1="976.52" x2="1121.60" y2="976.52" stroke="#000" stroke-width="3.33"/>
<text x="1078.95" y="988.02" font-size="27.78" text-anchor="end">0.6</text>
<line x1="1106.30" y1="955.84" x2="1116.20" y2="955.84" stroke="#000" stroke-width="3.33"/>
<line x1="1106.30" y1="935.16" x2="1116.20" y2="935.16" stroke="#000" stroke-width="3.33"/>
<line x1="1106.30" y1="914.47" x2="1116.20" y2="914.47" stroke="#000" stroke-width="3.33"/>
<line x1="1106.30" y1="893.79" x2="1116.20" y2="893.79" stroke="#000" stroke-width="3.33"/>
<line x1="1091.00" y1="873.11" x2="1121.60" y2="873.11" stroke="#000" stroke-width="3.33"/>
<text x="1079.07" y="884.61" font-size="27.78" text-anchor="end">0.8</text>
<line x1="1106.30" y1="852.43" x2="1116.20" y2="852.43" stroke="#000" stroke-width="3.33"/>
<line x1="1106.30" y1="831.75" x2="1116.20" y2="831.75" stroke="#000" stroke-width="3.33"/>
<line x1="1106.30" y1="811.06" x2="1116.20" y2="811.06" stroke="#000" stroke-width="3.33"/>
<line x1="1106.30" y1="790.38" x2="1116.20" y2="790.38" stroke="#000" stroke-width="3.33"/>
<line x1="1091.00" y1="769.70" x2="1121.60" y2="769.70" stroke="#000" stroke-width="3.33"/>
<text x="1079.04" y="781.20" font-size="27.78" text-anchor="end">1.0</text>
<line x1="1105.90" y1="1276.70" x2="1105.90" y2="1307.30" stroke="#000" stroke-width="3.33"/>
<text x="1105.30" y="1340.60" font-size="27.78" text-anchor="middle">−0.15</text>
<line x1="1167.65" y1="1282.10" x2="1167.65" y2="1292.00" stroke="#000" stroke-width="3.33"/>
<line x1="1229.40" y1="1276.70" x2="1229.40" y2="1307.30" stroke="#000" stroke-width="3.33"/>
<text x="1228.80" y="1340.60" font-size="27.78" text-anchor="middle">−0.10</text>
<line x1="1291.15" y1="1282.10" x2="1291.15" y2="1292.00" stroke="#000" stroke-width="3.33"/>
<line x1="1352.90" y1="1276.70" x2="1352.90" y2="1307.30" stroke="#000" stroke-width="3.33"/>
<text x="1352.30" y="1340.60" font-size="27.78" text-anchor="middle">−0.05</text>
<line x1="1414.65" y1="1282.10" x2="1414.65" y2="1292.00" stroke="#000" stroke-width="3.33"/>
<line x1="1476.40" y1="1276.70" x2="1476.40" y2="1307.30" stroke="#000" stroke-width="3.33"/>
<text x="1475.80" y="1340.60" font-size="27.78" text-anchor="middle">0.00</text>
<line x1="1538.15" y1="1282.10" x2="1538.15" y2="1292.00" stroke="#000" stroke-width="3.33"/>
<line x1="1599.90" y1="1276.70" x2="1599.90" y2="1307.30" stroke="#000" stroke-width="3.33"/>
<text x="1599.30" y="1340.60" font-size="27.78" text-anchor="middle">0.05</text>
<line x1="1661.65" y1="1282.10" x2="1661.65" y2="1292.00" stroke="#000" stroke-width="3.33"/>
<line x1="1723.40" y1="1276.70" x2="1723.40" y2="1307.30" stroke="#000" stroke-width="3.33"/>
<text x="1722.80" y="1340.60" font-size="27.78" text-anchor="middle">0.10</text>
<polyline points="1105.9,1276.2 1108.4,1275.7 1110.8,1275.3 1113.3,1274.9 1115.8,1274.4 1118.2,1273.9 1120.7,1273.4 1123.2,1272.9 1125.7,1272.4 1128.1,1271.8 1130.6,1271.2 1133.1,1270.6 1135.5,1270.0 1138.0,1269.3 1140.5,1268.7 1143.0,1268.0 1145.4,1267.3 1147.9,1266.5 1150.4,1265.7 1152.8,1264.9 1155.3,1264.1 1157.8,1263.3 1160.2,1262.4 1162.7,1261.5 1165.2,1260.5 1167.7,1259.5 1170.1,1258.5 1172.6,1257.4 1175.1,1256.4 1177.5,1255.2 1180.0,1254.1 1182.5,1252.9 1184.9,1251.6 1187.4,1250.3 1189.9,1249.0 1192.4,1247.6 1194.8,1246.2 1197.3,1244.8 1199.8,1243.3 1202.2,1241.7 1204.7,1240.1 1207.2,1238.5 1209.6,1236.8 1212.1,1235.0 1214.6,1233.2 1217.0,1231.4 1219.5,1229.4 1222.0,1227.5 1224.5,1225.5 1226.9,1223.4 1229.4,1221.3 1231.9,1219.1 1234.3,1216.8 1236.8,1214.5 1239.3,1212.2 1241.8,1209.7 1244.2,1207.2 1246.7,1204.7 1249.2,1202.1 1251.6,1199.4 1254.1,1196.7 1256.6,1193.9 1259.0,1191.1 1261.5,1188.1 1264.0,1185.2 1266.5,1182.1 1268.9,1179.0 1271.4,1175.9 1273.9,1172.7 1276.3,1169.4 1278.8,1166.1 1281.3,1162.7 1283.7,1159.3 1286.2,1155.8 1288.7,1152.2 1291.2,1148.6 1293.6,1145.0 1296.1,1141.3 1298.6,1137.6 1301.0,1133.8 1303.5,1129.9 1306.0,1126.1 1308.4,1122.2 1310.9,1118.2 1313.4,1114.2 1315.8,1110.2 1318.3,1106.2 1320.8,1102.1 1323.3,1098.0 1325.7,1093.9 1328.2,1089.8 1330.7,1085.6 1333.1,1081.4 1335.6,1077.3 1338.1,1073.1 1340.5,1068.9 1343.0,1064.7 1345.5,1060.5 1348.0,1056.3 1350.4,1052.1 1352.9,1047.9 1355.4,1043.8 1357.8,1039.6 1360.3,1035.5 1362.8,1031.3 1365.2,1027.2 1367.7,1023.2 1370.2,1019.1 1372.7,1015.1 1375.1,1011.1 1377.6,1007.2 1380.1,1003.2 1382.5,999.4 1385.0,995.5 1387.5,991.7 1390.0,988.0 1392.4,984.3 1394.9,980.6 1397.4,977.0 1399.8,973.5 1402.3,970.0 1404.8,966.5 1407.2,963.1 1409.7,959.8 1412.2,956.5 1414.7,953.3 1417.1,950.1 1419.6,947.0 1422.1,943.9 1424.5,940.9 1427.0,938.0 1429.5,935.1 1431.9,932.3 1434.4,929.6 1436.9,926.9 1439.3,924.3 1441.8,921.7 1444.3,919.2 1446.8,916.7 1449.2,914.3 1451.7,912.0 1454.2,909.7 1456.6,907.5 1459.1,905.4 1461.6,903.3 1464.0,901.2 1466.5,899.3 1469.0,897.3 1471.5,895.4 1473.9,893.6 1476.4,891.8 1478.9,890.1 1481.3,888.4 1483.8,886.8 1486.3,885.2 1488.8,883.7 1491.2,882.2 1493.7,880.8 1496.2,879.4 1498.6,878.1 1501.1,876.7 1503.6,875.5 1506.0,874.3 1508.5,873.1 1511.0,871.9 1513.4,870.8 1515.9,869.7 1518.4,868.7 1520.9,867.7 1523.3,866.7 1525.8,865.8 1528.3,864.9 1530.7,864.0 1533.2,863.2 1535.7,862.3 1538.2,861.6 1540.6,860.8 1543.1,860.1 1545.6,859.4 1548.0,858.7 1550.5,858.0 1553.0,857.4 1555.4,856.8 1557.9,856.2 1560.4,855.6 1562.8,855.0 1565.3,854.5 1567.8,854.0 1570.3,853.5 1572.7,853.0 1575.2,852.6 1577.7,852.1 1580.1,851.7 1582.6,851.3 1585.1,850.9 1587.5,850.5 1590.0,850.2 1592.5,849.8 1595.0,849.5 1597.4,849.1 1599.9,848.8 1602.4,848.5 1604.8,848.2 1607.3,847.9 1609.8,847.7 1612.2,847.4 1614.7,847.2 1617.2,846.9 1619.7,846.7 1622.1,846.5 1624.6,846.2 1627.1,846.0 1629.5,845.8 1632.0,845.6 1634.5,845.5 1636.9,845.3 1639.4,845.1 1641.9,845.0 1644.4,844.8 1646.8,844.6 1649.3,844.6 1651.8,844.6 1654.2,844.5 1656.7,844.5 1659.2,844.5 1661.6,844.5 1664.1,844.4 1666.6,844.4 1669.1,844.4 1671.5,844.3 1674.0,844.3 1676.5,844.3 1678.9,844.2 1681.4,844.2 1683.9,844.2 1686.3,844.1 1688.8,844.1 1691.3,844.1 1693.8,844.1 1696.2,844.0 1698.7,844.0 1701.2,844.0 1703.6,843.9 1706.1,843.9 1708.6,843.9 1711.0,843.8 1713.5,843.8 1716.0,843.8 1718.5,843.7 1720.9,843.7 1723.4,843.7 1725.9,843.7 1728.3,843.6 1730.8,843.6 1733.3,843.6 1735.8,843.5 1738.2,843.5 1740.7,843.5 1743.2,843.4 1745.6,843.4 1748.1,843.4" fill="none" stroke="#3498db" stroke-width="5.0" stroke-linejoin="round"/>
<polyline points="1113.4,1285.3 1115.8,1285.2 1118.2,1285.1 1120.7,1285.1 1123.2,1285.0 1125.7,1284.9 1128.1,1284.9 1130.6,1284.8 1133.1,1284.7 1135.5,1284.6 1138.0,1284.6 1140.5,1284.5 1143.0,1284.4 1145.4,1284.3 1147.9,1284.2 1150.4,1284.1 1152.8,1284.0 1155.3,1283.9 1157.8,1283.8 1160.2,1283.7 1162.7,1283.5 1165.2,1283.4 1167.7,1283.3 1170.1,1283.2 1172.6,1283.0 1175.1,1282.9 1177.5,1282.7 1180.0,1282.6 1182.5,1282.4 1184.9,1282.3 1187.4,1282.1 1189.9,1281.9 1192.4,1281.8 1194.8,1281.6 1197.3,1281.4 1199.8,1281.2 1202.2,1281.0 1204.7,1280.8 1207.2,1280.6 1209.6,1280.3 1212.1,1280.1 1214.6,1279.9 1217.0,1279.6 1219.5,1279.4 1222.0,1279.1 1224.5,1278.9 1226.9,1278.6 1229.4,1278.3 1231.9,1278.0 1234.3,1277.7 1236.8,1277.4 1239.3,1277.1 1241.8,1276.8 1244.2,1276.4 1246.7,1276.1 1249.2,1275.7 1251.6,1275.4 1254.1,1275.0 1256.6,1274.6 1259.0,1274.2 1261.5,1273.8 1264.0,1273.4 1266.5,1273.0 1268.9,1272.5 1271.4,1272.1 1273.9,1271.7 1276.3,1271.2 1278.8,1270.7 1281.3,1270.3 1283.7,1269.8 1286.2,1269.3 1288.7,1268.8 1291.2,1268.3 1293.6,1267.7 1296.1,1267.2 1298.6,1266.7 1301.0,1266.1 1303.5,1265.5 1306.0,1265.0 1308.4,1264.4 1310.9,1263.8 1313.4,1263.2 1315.8,1262.6 1318.3,1262.0 1320.8,1261.4 1323.3,1260.8 1325.7,1260.2 1328.2,1259.5 1330.7,1258.9 1333.1,1258.3 1335.6,1257.6 1338.1,1257.0 1340.5,1256.3 1343.0,1255.7 1345.5,1255.0 1348.0,1254.3 1350.4,1253.7 1352.9,1253.0 1355.4,1252.3 1357.8,1251.7 1360.3,1251.0 1362.8,1250.3 1365.2,1249.7 1367.7,1249.0 1370.2,1248.3 1372.7,1247.7 1375.1,1247.0 1377.6,1246.3 1380.1,1245.7 1382.5,1245.0 1385.0,1244.4 1387.5,1243.7 1390.0,1243.1 1392.4,1242.5 1394.9,1241.8 1397.4,1241.2 1399.8,1240.6 1402.3,1240.0 1404.8,1239.4 1407.2,1238.8 1409.7,1238.2 1412.2,1237.6 1414.7,1237.1 1417.1,1236.5 1419.6,1235.9 1422.1,1235.4 1424.5,1234.8 1427.0,1234.3 1429.5,1233.8 1431.9,1233.3 1434.4,1232.8 1436.9,1232.3 1439.3,1231.8 1441.8,1231.3 1444.3,1230.9 1446.8,1230.4 1449.2,1230.0 1451.7,1229.5 1454.2,1229.1 1456.6,1228.7 1459.1,1228.3 1461.6,1227.9 1464.0,1227.5 1466.5,1227.1 1469.0,1226.8 1471.5,1226.4 1473.9,1226.1 1476.4,1225.7 1478.9,1225.4 1481.3,1225.1 1483.8,1224.8 1486.3,1224.5 1488.8,1224.2 1491.2,1223.9 1493.7,1223.6 1496.2,1223.3 1498.6,1223.1 1501.1,1222.8 1503.6,1222.6 1506.0,1222.3 1508.5,1222.1 1511.0,1221.9 1513.4,1221.7 1515.9,1221.5 1518.4,1221.3 1520.9,1221.1 1523.3,1220.9 1525.8,1220.7 1528.3,1220.5 1530.7,1220.3 1533.2,1220.2 1535.7,1220.0 1538.2,1219.9 1540.6,1219.7 1543.1,1219.6 1545.6,1219.4 1548.0,1219.3 1550.5,1219.1 1553.0,1219.0 1555.4,1218.9 1557.9,1218.8 1560.4,1218.7 1562.8,1218.6 1565.3,1218.4 1567.8,1218.3 1570.3,1218.2 1572.7,1218.2 1575.2,1218.1 1577.7,1218.0 1580.1,1217.9 1582.6,1217.8 1585.1,1217.7 1587.5,1217.6 1590.0,1217.6 1592.5,1217.5 1595.0,1217.4 1597.4,1217.4 1599.9,1217.3 1602.4,1217.2 1604.8,1217.2 1607.3,1217.1 1609.8,1217.1 1612.2,1217.0 1614.7,1217.0 1617.2,1216.9 1619.7,1216.9 1622.1,1216.8 1624.6,1216.8 1627.1,1216.7 1629.5,1216.7 1632.0,1216.7 1634.5,1216.6 1636.9,1216.6 1639.4,1216.6 1641.9,1216.5 1644.4,1216.5 1646.8,1216.5 1649.3,1216.5 1651.8,1216.5 1654.2,1216.5 1656.7,1216.5 1659.2,1216.4 1661.6,1216.4 1664.1,1216.4 1666.6,1216.4 1669.1,1216.4 1671.5,1216.4 1674.0,1216.4 1676.5,1216.4 1678.9,1216.4 1681.4,1216.4 1683.9,1216.4 1686.3,1216.4 1688.8,1216.4 1691.3,1216.4 1693.8,1216.4 1696.2,1216.4 1698.7,1216.4 1701.2,1216.4 1703.6,1216.4 1706.1,1216.4 1708.6,1216.4 1711.0,1216.4 1713.5,1216.4 1716.0,1216.4 1718.5,1216.4 1720.9,1216.4 1723.4,1216.4 1725.9,1216.4 1728.3,1216.4 1730.8,1216.4 1733.3,1216.3 1735.8,1216.3 1738.2,1216.3 1740.7,1216.3 1743.2,1216.3 1745.6,1216.3 1748.1,1216.3" fill="none" stroke="#27ae60" stroke-width="5.0" stroke-linejoin="round" stroke-dasharray="18.55 8.05"/>
<polyline points="1105.9,782.0 1108.4,782.5 1110.8,783.0 1113.3,783.5 1115.8,784.0 1118.2,784.5 1120.7,785.1 1123.2,785.7 1125.7,786.3 1128.1,786.9 1130.6,787.6 1133.1,788.3 1135.5,789.0 1138.0,789.7 1140.5,790.4 1143.0,791.2 1145.4,792.0 1147.9,792.9 1150.4,793.7 1152.8,794.6 1155.3,795.6 1157.8,796.5 1160.2,797.5 1162.7,798.6 1165.2,799.6 1167.7,800.8 1170.1,801.9 1172.6,803.1 1175.1,804.3 1177.5,805.6 1180.0,806.9 1182.5,808.3 1184.9,809.7 1187.4,811.1 1189.9,812.6 1192.4,814.2 1194.8,815.8 1197.3,817.4 1199.8,819.1 1202.2,820.9 1204.7,822.7 1207.2,824.5 1209.6,826.5 1212.1,828.4 1214.6,830.5 1217.0,832.6 1219.5,834.7 1222.0,837.0 1224.5,839.2 1226.9,841.6 1229.4,844.0 1231.9,846.5 1234.3,849.0 1236.8,851.6 1239.3,854.3 1241.8,857.1 1244.2,859.9 1246.7,862.8 1249.2,865.7 1251.6,868.8 1254.1,871.9 1256.6,875.0 1259.0,878.3 1261.5,881.6 1264.0,885.0 1266.5,888.4 1268.9,891.9 1271.4,895.5 1273.9,899.2 1276.3,902.9 1278.8,906.7 1281.3,910.6 1283.7,914.5 1286.2,918.5 1288.7,922.5 1291.2,926.6 1293.6,930.8 1296.1,935.0 1298.6,939.3 1301.0,943.6 1303.5,948.0 1306.0,952.4 1308.4,956.9 1310.9,961.5 1313.4,966.0 1315.8,970.6 1318.3,975.3 1320.8,980.0 1323.3,984.7 1325.7,989.4 1328.2,994.2 1330.7,999.0 1333.1,1003.8 1335.6,1008.6 1338.1,1013.4 1340.5,1018.3 1343.0,1023.1 1345.5,1028.0 1348.0,1032.8 1350.4,1037.7 1352.9,1042.5 1355.4,1047.3 1357.8,1052.2 1360.3,1057.0 1362.8,1061.8 1365.2,1066.5 1367.7,1071.3 1370.2,1076.0 1372.7,1080.7 1375.1,1085.3 1377.6,1089.9 1380.1,1094.5 1382.5,1099.0 1385.0,1103.5 1387.5,1107.9 1390.0,1112.3 1392.4,1116.6 1394.9,1120.9 1397.4,1125.2 1399.8,1129.3 1402.3,1133.4 1404.8,1137.5 1407.2,1141.5 1409.7,1145.4 1412.2,1149.3 1414.7,1153.1 1417.1,1156.8 1419.6,1160.5 1422.1,1164.0 1424.5,1167.6 1427.0,1171.0 1429.5,1174.4 1431.9,1177.7 1434.4,1181.0 1436.9,1184.2 1439.3,1187.3 1441.8,1190.3 1444.3,1193.3 1446.8,1196.2 1449.2,1199.0 1451.7,1201.8 1454.2,1204.5 1456.6,1207.1 1459.1,1209.6 1461.6,1212.1 1464.0,1214.6 1466.5,1216.9 1469.0,1219.2 1471.5,1221.5 1473.9,1223.6 1476.4,1225.7 1478.9,1227.8 1481.3,1229.8 1483.8,1231.7 1486.3,1233.6 1488.8,1235.4 1491.2,1237.2 1493.7,1238.9 1496.2,1240.6 1498.6,1242.2 1501.1,1243.7 1503.6,1245.2 1506.0,1246.7 1508.5,1248.1 1511.0,1249.5 1513.4,1250.8 1515.9,1252.1 1518.4,1253.3 1520.9,1254.5 1523.3,1255.7 1525.8,1256.8 1528.3,1257.9 1530.7,1258.9 1533.2,1260.0 1535.7,1260.9 1538.2,1261.9 1540.6,1262.8 1543.1,1263.7 1545.6,1264.5 1548.0,1265.3 1550.5,1266.1 1553.0,1266.9 1555.4,1267.6 1557.9,1268.3 1560.4,1269.0 1562.8,1269.7 1565.3,1270.3 1567.8,1270.9 1570.3,1271.5 1572.7,1272.1 1575.2,1272.6 1577.7,1273.2 1580.1,1273.7 1582.6,1274.2 1585.1,1274.7 1587.5,1275.1 1590.0,1275.6 1592.5,1276.0 1595.0,1276.4 1597.4,1276.8 1599.9,1277.2 1602.4,1277.5 1604.8,1277.9 1607.3,1278.2 1609.8,1278.5 1612.2,1278.8 1614.7,1279.1 1617.2,1279.4 1619.7,1279.7 1622.1,1280.0 1624.6,1280.2 1627.1,1280.5 1629.5,1280.7 1632.0,1281.0 1634.5,1281.2 1636.9,1281.4 1639.4,1281.6 1641.9,1281.8 1644.4,1282.0 1646.8,1282.2 1649.3,1282.2 1651.8,1282.2 1654.2,1282.3 1656.7,1282.3 1659.2,1282.3 1661.6,1282.3 1664.1,1282.4 1666.6,1282.4 1669.1,1282.4 1671.5,1282.5 1674.0,1282.5 1676.5,1282.5 1678.9,1282.5 1681.4,1282.6 1683.9,1282.6 1686.3,1282.6 1688.8,1282.7 1691.3,1282.7 1693.8,1282.7 1696.2,1282.7 1698.7,1282.8 1701.2,1282.8 1703.6,1282.8 1706.1,1282.9 1708.6,1282.9 1711.0,1282.9 1713.5,1282.9 1716.0,1283.0 1718.5,1283.0 1720.9,1283.0 1723.4,1283.1 1725.9,1283.1 1728.3,1283.1 1730.8,1283.1 1733.3,1283.2 1735.8,1283.2 1738.2,1283.2 1740.7,1283.3 1743.2,1283.3 1745.6,1283.3 1748.1,1283.3" fill="none" stroke="#a93226" stroke-width="5.0" stroke-linejoin="round"/>
<line x1="1106.30" y1="768.04" x2="1106.30" y2="1293.35" stroke="#000" stroke-width="2.7"/>
<line x1="1104.95" y1="1292.00" x2="1750.45" y2="1292.00" stroke="#000" stroke-width="2.7"/>
<line x1="1733.80" y1="1292.00" x2="1764.40" y2="1292.00" stroke="#000" stroke-width="3.33"/>
<text x="1775.87" y="1303.20" font-size="27.78">0.0</text>
<line x1="1739.20" y1="1278.94" x2="1749.10" y2="1278.94" stroke="#000" stroke-width="3.33"/>
<line x1="1739.20" y1="1265.88" x2="1749.10" y2="1265.88" stroke="#000" stroke-width="3.33"/>
<line x1="1739.20" y1="1252.83" x2="1749.10" y2="1252.83" stroke="#000" stroke-width="3.33"/>
<line x1="1739.20" y1="1239.77" x2="1749.10" y2="1239.77" stroke="#000" stroke-width="3.33"/>
<line x1="1733.80" y1="1226.71" x2="1764.40" y2="1226.71" stroke="#000" stroke-width="3.33"/>
<text x="1775.87" y="1237.91" font-size="27.78">0.5</text>
<line x1="1739.20" y1="1213.65" x2="1749.10" y2="1213.65" stroke="#000" stroke-width="3.33"/>
<line x1="1739.20" y1="1200.60" x2="1749.10" y2="1200.60" stroke="#000" stroke-width="3.33"/>
<line x1="1739.20" y1="1187.54" x2="1749.10" y2="1187.54" stroke="#000" stroke-width="3.33"/>
<line x1="1739.20" y1="1174.48" x2="1749.10" y2="1174.48" stroke="#000" stroke-width="3.33"/>
<line x1="1733.80" y1="1161.42" x2="1764.40" y2="1161.42" stroke="#000" stroke-width="3.33"/>
<text x="1774.31" y="1172.62" font-size="27.78">1.0</text>
<line x1="1739.20" y1="1148.37" x2="1749.10" y2="1148.37" stroke="#000" stroke-width="3.33"/>
<line x1="1739.20" y1="1135.31" x2="1749.10" y2="1135.31" stroke="#000" stroke-width="3.33"/>
<line x1="1739.20" y1="1122.25" x2="1749.10" y2="1122.25" stroke="#000" stroke-width="3.33"/>
<line x1="1739.20" y1="1109.19" x2="1749.10" y2="1109.19" stroke="#000" stroke-width="3.33"/>
<line x1="1733.80" y1="1096.14" x2="1764.40" y2="1096.14" stroke="#000" stroke-width="3.33"/>
<text x="1774.31" y="1107.34" font-size="27.78">1.5</text>
<line x1="1739.20" y1="1083.08" x2="1749.10" y2="1083.08" stroke="#000" stroke-width="3.33"/>
<line x1="1739.20" y1="1070.02" x2="1749.10" y2="1070.02" stroke="#000" stroke-width="3.33"/>
<line x1="1739.20" y1="1056.96" x2="1749.10" y2="1056.96" stroke="#000" stroke-width="3.33"/>
<line x1="1739.20" y1="1043.91" x2="1749.10" y2="1043.91" stroke="#000" stroke-width="3.33"/>
<line x1="1733.80" y1="1030.85" x2="1764.40" y2="1030.85" stroke="#000" stroke-width="3.33"/>
<text x="1775.81" y="1042.05" font-size="27.78">2.0</text>
<line x1="1739.20" y1="1017.79" x2="1749.10" y2="1017.79" stroke="#000" stroke-width="3.33"/>
<line x1="1739.20" y1="1004.74" x2="1749.10" y2="1004.74" stroke="#000" stroke-width="3.33"/>
<line x1="1739.20" y1="991.68" x2="1749.10" y2="991.68" stroke="#000" stroke-width="3.33"/>
<line x1="1739.20" y1="978.62" x2="1749.10" y2="978.62" stroke="#000" stroke-width="3.33"/>
<line x1="1733.80" y1="965.56" x2="1764.40" y2="965.56" stroke="#000" stroke-width="3.33"/>
<text x="1775.81" y="976.76" font-size="27.78">2.5</text>
<line x1="1739.20" y1="952.50" x2="1749.10" y2="952.50" stroke="#000" stroke-width="3.33"/>
<line x1="1739.20" y1="939.45" x2="1749.10" y2="939.45" stroke="#000" stroke-width="3.33"/>
<line x1="1739.20" y1="926.39" x2="1749.10" y2="926.39" stroke="#000" stroke-width="3.33"/>
<line x1="1739.20" y1="913.33" x2="1749.10" y2="913.33" stroke="#000" stroke-width="3.33"/>
<line x1="1733.80" y1="900.28" x2="1764.40" y2="900.28" stroke="#000" stroke-width="3.33"/>
<text x="1775.58" y="911.48" font-size="27.78">3.0</text>
<line x1="1739.20" y1="887.22" x2="1749.10" y2="887.22" stroke="#000" stroke-width="3.33"/>
<line x1="1739.20" y1="874.16" x2="1749.10" y2="874.16" stroke="#000" stroke-width="3.33"/>
<line x1="1739.20" y1="861.10" x2="1749.10" y2="861.10" stroke="#000" stroke-width="3.33"/>
<line x1="1739.20" y1="848.05" x2="1749.10" y2="848.05" stroke="#000" stroke-width="3.33"/>
<line x1="1733.80" y1="834.99" x2="1764.40" y2="834.99" stroke="#000" stroke-width="3.33"/>
<text x="1775.58" y="846.19" font-size="27.78">3.5</text>
<line x1="1739.20" y1="821.93" x2="1749.10" y2="821.93" stroke="#000" stroke-width="3.33"/>
<line x1="1739.20" y1="808.87" x2="1749.10" y2="808.87" stroke="#000" stroke-width="3.33"/>
<line x1="1739.20" y1="795.82" x2="1749.10" y2="795.82" stroke="#000" stroke-width="3.33"/>
<line x1="1739.20" y1="782.76" x2="1749.10" y2="782.76" stroke="#000" stroke-width="3.33"/>
<line x1="1733.80" y1="769.70" x2="1764.40" y2="769.70" stroke="#000" stroke-width="3.33"/>
<text x="1776.85" y="780.90" font-size="27.78">4.0</text>
<polyline points="1113.5,772.6 1115.8,772.7 1118.2,772.8 1120.7,773.0 1123.2,773.1 1125.7,773.2 1128.1,773.4 1130.6,773.5 1133.1,773.7 1135.5,773.8 1138.0,774.0 1140.5,774.2 1143.0,774.3 1145.4,774.5 1147.9,774.7 1150.4,774.9 1152.8,775.1 1155.3,775.3 1157.8,775.5 1160.2,775.8 1162.7,776.0 1165.2,776.2 1167.7,776.5 1170.1,776.7 1172.6,777.0 1175.1,777.3 1177.5,777.6 1180.0,777.9 1182.5,778.2 1184.9,778.5 1187.4,778.8 1189.9,779.1 1192.4,779.5 1194.8,779.8 1197.3,780.2 1199.8,780.6 1202.2,781.0 1204.7,781.4 1207.2,781.8 1209.6,782.2 1212.1,782.7 1214.6,783.1 1217.0,783.6 1219.5,784.1 1222.0,784.6 1224.5,785.1 1226.9,785.6 1229.4,786.2 1231.9,786.7 1234.3,787.3 1236.8,787.9 1239.3,788.5 1241.8,789.1 1244.2,789.7 1246.7,790.3 1249.2,791.0 1251.6,791.7 1254.1,792.4 1256.6,793.1 1259.0,793.8 1261.5,794.5 1264.0,795.3 1266.5,796.0 1268.9,796.8 1271.4,797.6 1273.9,798.4 1276.3,799.3 1278.8,800.1 1281.3,800.9 1283.7,801.8 1286.2,802.7 1288.7,803.6 1291.2,804.5 1293.6,805.4 1296.1,806.4 1298.6,807.3 1301.0,808.3 1303.5,809.2 1306.0,810.2 1308.4,811.2 1310.9,812.2 1313.4,813.2 1315.8,814.2 1318.3,815.2 1320.8,816.3 1323.3,817.3 1325.7,818.3 1328.2,819.4 1330.7,820.4 1333.1,821.5 1335.6,822.5 1338.1,823.6 1340.5,824.7 1343.0,825.7 1345.5,826.8 1348.0,827.8 1350.4,828.9 1352.9,830.0 1355.4,831.0 1357.8,832.1 1360.3,833.1 1362.8,834.1 1365.2,835.2 1367.7,836.2 1370.2,837.2 1372.7,838.2 1375.1,839.3 1377.6,840.3 1380.1,841.2 1382.5,842.2 1385.0,843.2 1387.5,844.2 1390.0,845.1 1392.4,846.0 1394.9,847.0 1397.4,847.9 1399.8,848.8 1402.3,849.7 1404.8,850.5 1407.2,851.4 1409.7,852.2 1412.2,853.1 1414.7,853.9 1417.1,854.7 1419.6,855.5 1422.1,856.2 1424.5,857.0 1427.0,857.7 1429.5,858.5 1431.9,859.2 1434.4,859.9 1436.9,860.5 1439.3,861.2 1441.8,861.9 1444.3,862.5 1446.8,863.1 1449.2,863.7 1451.7,864.3 1454.2,864.9 1456.6,865.4 1459.1,866.0 1461.6,866.5 1464.0,867.0 1466.5,867.5 1469.0,868.0 1471.5,868.5 1473.9,869.0 1476.4,869.4 1478.9,869.8 1481.3,870.3 1483.8,870.7 1486.3,871.1 1488.8,871.5 1491.2,871.8 1493.7,872.2 1496.2,872.5 1498.6,872.9 1501.1,873.2 1503.6,873.5 1506.0,873.8 1508.5,874.1 1511.0,874.4 1513.4,874.7 1515.9,875.0 1518.4,875.2 1520.9,875.5 1523.3,875.7 1525.8,876.0 1528.3,876.2 1530.7,876.4 1533.2,876.6 1535.7,876.9 1538.2,877.1 1540.6,877.2 1543.1,877.4 1545.6,877.6 1548.0,877.8 1550.5,878.0 1553.0,878.1 1555.4,878.3 1557.9,878.4 1560.4,878.6 1562.8,878.7 1565.3,878.8 1567.8,879.0 1570.3,879.1 1572.7,879.2 1575.2,879.3 1577.7,879.4 1580.1,879.5 1582.6,879.6 1585.1,879.7 1587.5,879.8 1590.0,879.9 1592.5,880.0 1595.0,880.1 1597.4,880.2 1599.9,880.3 1602.4,880.4 1604.8,880.4 1607.3,880.5 1609.8,880.6 1612.2,880.6 1614.7,880.7 1617.2,880.8 1619.7,880.8 1622.1,880.9 1624.6,880.9 1627.1,881.0 1629.5,881.0 1632.0,881.1 1634.5,881.1 1636.9,881.2 1639.4,881.2 1641.9,881.3 1644.4,881.3 1646.8,881.3 1649.3,881.4 1651.8,881.4 1654.2,881.4 1656.7,881.5 1659.2,881.5 1661.6,881.5 1664.1,881.6 1666.6,881.6 1669.1,881.6 1671.5,881.7 1674.0,881.7 1676.5,881.7 1678.9,881.7 1681.4,881.8 1683.9,881.8 1686.3,881.8 1688.8,881.9 1691.3,881.9 1693.8,881.9 1696.2,882.0 1698.7,882.0 1701.2,882.0 1703.6,882.1 1706.1,882.1 1708.6,882.1 1711.0,882.2 1713.5,882.2 1716.0,882.2 1718.5,882.3 1720.9,882.3 1723.4,882.3 1725.9,882.4 1728.3,882.4 1730.8,882.4 1733.3,882.5 1735.8,882.5 1738.2,882.5 1740.7,882.6 1743.2,882.6 1745.6,882.6 1748.1,882.6" fill="none" stroke="#000" stroke-width="5.0" stroke-linejoin="round" stroke-dasharray="18.55 8.05"/>
<line x1="1749.10" y1="768.04" x2="1749.10" y2="1293.35" stroke="#000" stroke-width="2.7"/>
<text font-size="33.33"><tspan x="1281.56" y="1389.80">E - E</tspan><tspan class="sa" font-size="23.33" x="1362.46" y="1376.80">0</tspan><tspan class="cap" font-size="41.00" x="1375.98" y="1386.20">′</tspan><tspan x="1385.18" y="1389.80"> (V vs SCE)</tspan></text>
<g transform="translate(974.30,1248.86) rotate(-90)">
<text x="0.00" y="0.00" font-size="33.33">Fractional Concentration</text>
</g>
<g transform="translate(1012.90,1156.64) rotate(-90)">
<text font-size="33.33"><tspan x="0" y="0">(relative to </tspan><tspan class="sa" x="197.50" y="0">c</tspan><tspan class="si" font-size="23.33" x="216.71" y="4.4">M</tspan><tspan x="237.77" y="0">)</tspan></text>
</g>
<text font-size="30.40" fill="#a93226"><tspan x="1130.89" y="1021.10">[Cu(bpy)</tspan><tspan class="sa" font-size="21.28" x="1264.45" y="1026.90">2</tspan><tspan x="1278.49" y="1021.10">]</tspan><tspan class="sa" font-size="21.28" x="1290.87" y="1009.90">1</tspan><tspan class="sa" font-size="21.28" x="1307.75" y="1009.90">+</tspan></text>
<text x="1353.04" y="821.70" font-size="33.33">bpy</text>
<text font-size="30.40" fill="#27ae60"><tspan x="1524.09" y="1194.50">[Cu(bpy)</tspan><tspan class="sa" font-size="21.28" x="1657.65" y="1200.30">2</tspan><tspan x="1671.69" y="1194.50">]</tspan><tspan class="sa" font-size="21.28" x="1684.07" y="1183.30">2</tspan><tspan class="sa" font-size="21.28" x="1700.95" y="1183.30">+</tspan></text>
<text font-size="30.40" fill="#3498db"><tspan x="1524.29" y="826.90">[Cu(bpy)</tspan><tspan class="sa" font-size="21.28" x="1657.85" y="832.70">3</tspan><tspan x="1671.89" y="826.90">]</tspan><tspan class="sa" font-size="21.28" x="1684.27" y="815.70">2</tspan><tspan class="sa" font-size="21.28" x="1701.15" y="815.70">+</tspan></text>
<text x="1529.10" y="1006.40" font-size="33.33">pH 7.14</text>
<text x="1514.15" y="1042.80" font-size="33.33">cL/cM = 6</text>
<text class="cap" font-size="53.0"><tspan class="xl" x="1345.04" y="1490.70" font-size="60.1" textLength="26.96" lengthAdjust="spacingAndGlyphs">(</tspan><tspan x="1368.26" y="1485.20" textLength="29.56" lengthAdjust="spacingAndGlyphs">d</tspan><tspan class="xl" x="1395.16" y="1490.70" font-size="60.1" textLength="26.96" lengthAdjust="spacingAndGlyphs">)</tspan></text>
</g>
</svg>
</body></html>
